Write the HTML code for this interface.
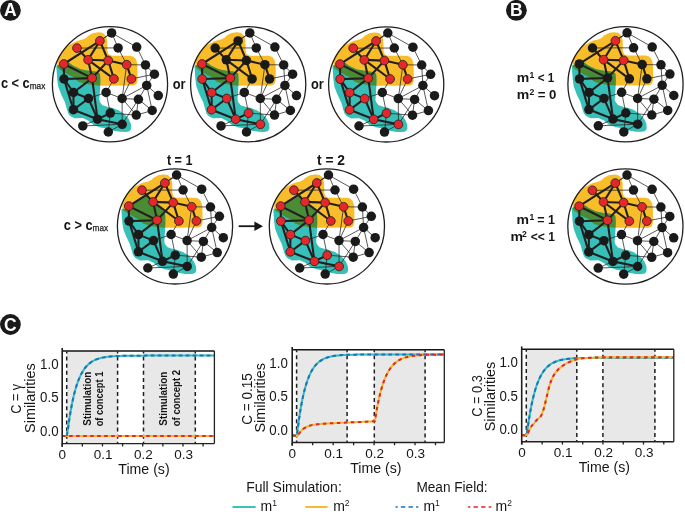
<!DOCTYPE html>
<html><head><meta charset="utf-8"><title>Figure</title>
<style>html,body{margin:0;padding:0;background:#fff;}svg{display:block;}text{font-family:'Liberation Sans', sans-serif;}</style></head>
<body><svg width="685" height="515" viewBox="0 0 685 515">
<rect width="685" height="515" fill="#fff"/>
<circle cx="10.4" cy="10.4" r="10.4" fill="#1a1a1a"/>
<text x="10.4" y="16.0" font-size="17.5" font-weight="bold" text-anchor="middle" fill="#fff">A</text>
<circle cx="516.4" cy="10.3" r="10.4" fill="#1a1a1a"/>
<text x="516.4" y="15.9" font-size="17.5" font-weight="bold" text-anchor="middle" fill="#fff">B</text>
<circle cx="10.4" cy="324.5" r="10.4" fill="#1a1a1a"/>
<text x="10.4" y="330.8" font-size="17.5" font-weight="bold" text-anchor="middle" fill="#fff">C</text>
<g transform="translate(110.0,83.8)">
<path d="M-52.56,-17.54 L-52.55,-17.39 L-52.52,-17.25 L-52.48,-17.11 L-52.43,-16.97 L-52.36,-16.83 L-52.28,-16.71 L-51.23,-15.20 L-51.13,-15.08 L-51.02,-14.96 L-50.91,-14.86 L-50.78,-14.77 L-48.59,-13.41 L-44.21,-10.62 L-44.16,-10.59 L-40.63,-8.53 L-40.48,-8.45 L-36.99,-6.90 L-31.43,-2.11 L-31.30,-2.00 L-31.15,-1.92 L-31.00,-1.85 L-30.84,-1.79 L-25.95,-0.38 L-25.81,-0.35 L-18.62,1.03 L-18.47,1.05 L-9.89,1.84 L-9.74,1.85 L23.23,1.65 L23.40,1.64 L23.57,1.61 L23.74,1.56 L23.89,1.50 L25.71,0.63 L25.84,0.56 L25.97,0.47 L26.08,0.38 L26.19,0.27 L26.28,0.15 L26.37,0.03 L26.44,-0.10 L26.50,-0.24 L27.46,-2.88 L27.50,-3.01 L27.53,-3.14 L27.54,-3.28 L27.55,-3.42 L27.45,-17.15 L27.44,-17.29 L27.06,-21.10 L27.03,-21.27 L26.99,-21.45 L26.01,-24.29 L25.95,-24.43 L25.88,-24.56 L25.80,-24.69 L25.71,-24.81 L24.07,-26.69 L23.96,-26.81 L23.84,-26.91 L23.71,-27.00 L23.57,-27.07 L23.42,-27.14 L20.81,-28.06 L20.64,-28.11 L20.47,-28.14 L20.29,-28.15 L2.53,-28.15 L2.53,-28.15 L2.52,-28.15 L0.63,-28.44 L-1.70,-29.92 L-2.65,-33.25 L-2.85,-43.51 L-2.86,-43.68 L-2.89,-43.84 L-2.94,-44.00 L-4.37,-48.04 L-4.43,-48.18 L-4.50,-48.31 L-4.58,-48.43 L-4.68,-48.55 L-4.78,-48.66 L-6.89,-50.61 L-7.01,-50.71 L-7.14,-50.79 L-7.27,-50.87 L-7.41,-50.93 L-7.56,-50.97 L-7.71,-51.00 L-11.17,-51.52 L-11.32,-51.54 L-11.47,-51.54 L-11.62,-51.52 L-16.15,-50.87 L-16.32,-50.84 L-16.48,-50.79 L-16.64,-50.72 L-21.00,-48.49 L-21.13,-48.42 L-21.26,-48.33 L-21.37,-48.23 L-23.71,-45.99 L-26.63,-44.43 L-32.95,-42.87 L-33.12,-42.82 L-33.28,-42.75 L-40.54,-39.07 L-40.69,-38.99 L-40.82,-38.89 L-46.10,-34.57 L-46.20,-34.48 L-46.29,-34.38 L-46.37,-34.28 L-50.19,-29.03 L-50.27,-28.92 L-50.33,-28.81 L-50.38,-28.69 L-52.63,-23.07 L-52.68,-22.91 L-52.72,-22.76 L-52.74,-22.60 L-52.74,-22.43Z" fill="#f8bd28"/>
<path d="M-52.52,-18.49 L-52.67,-18.45 L-52.81,-18.39 L-52.95,-18.31 L-53.07,-18.22 L-53.19,-18.12 L-53.30,-18.01 L-53.39,-17.89 L-53.47,-17.76 L-53.54,-17.63 L-53.60,-17.48 L-53.64,-17.34 L-53.67,-17.18 L-53.68,-17.03 L-53.67,-16.88 L-53.35,-12.68 L-52.75,-4.02 L-52.74,-3.90 L-51.77,2.72 L-51.73,2.89 L-51.68,3.04 L-48.85,10.57 L-48.79,10.70 L-45.03,18.42 L-45.03,18.42 L-45.03,18.43 L-43.14,25.17 L-43.13,25.23 L-41.80,29.40 L-41.75,29.53 L-41.69,29.66 L-41.62,29.78 L-41.54,29.89 L-39.94,31.91 L-39.83,32.04 L-39.70,32.15 L-39.57,32.25 L-39.43,32.33 L-35.44,34.37 L-35.29,34.43 L-35.14,34.48 L-34.99,34.52 L-34.83,34.54 L-34.67,34.54 L-27.07,34.25 L-21.49,36.90 L-16.89,40.82 L-16.78,40.91 L-16.67,40.99 L-16.54,41.05 L-16.41,41.10 L-9.53,43.59 L-9.39,43.63 L-9.24,43.66 L-2.99,44.64 L-2.98,44.64 L-2.98,44.64 L3.29,46.80 L3.41,46.84 L3.54,46.86 L10.35,48.03 L10.47,48.05 L10.58,48.05 L15.86,48.15 L16.03,48.14 L16.20,48.12 L19.03,47.55 L19.17,47.52 L19.31,47.47 L19.45,47.40 L19.57,47.33 L19.69,47.24 L19.80,47.14 L19.91,47.03 L20.00,46.91 L20.08,46.79 L21.03,45.08 L21.10,44.95 L21.15,44.81 L21.19,44.67 L21.22,44.52 L21.23,44.37 L21.22,44.22 L20.96,40.48 L20.94,40.31 L20.90,40.14 L20.84,39.98 L19.18,36.09 L19.10,35.93 L19.00,35.78 L16.55,32.48 L16.46,32.37 L16.36,32.27 L13.52,29.62 L13.41,29.53 L13.30,29.45 L8.70,26.48 L8.55,26.39 L8.40,26.33 L2.21,24.01 L2.10,23.97 L1.98,23.94 L-2.78,22.97 L-2.83,22.95 L-7.49,21.40 L-10.08,18.14 L-10.75,15.76 L-10.05,6.35 L-10.05,6.29 L-9.65,-3.63 L-9.65,-3.78 L-10.00,-9.44 L-10.02,-9.59 L-10.05,-9.74 L-10.09,-9.88 L-10.15,-10.01 L-10.22,-10.15 L-10.31,-10.27 L-10.40,-10.39 L-10.51,-10.49 L-10.62,-10.59 L-10.74,-10.67 L-10.88,-10.74 L-11.01,-10.80 L-14.74,-12.18 L-14.92,-12.23 L-15.10,-12.26 L-21.93,-13.04 L-21.96,-13.05 L-29.39,-14.44 L-36.82,-18.00 L-36.82,-18.00 L-36.82,-18.00 L-41.27,-21.21 L-41.40,-21.29 L-41.54,-21.36 L-41.68,-21.42 L-41.83,-21.46 L-41.98,-21.49 L-42.13,-21.50 L-42.28,-21.50 L-42.43,-21.48 L-42.58,-21.45 L-42.72,-21.40 L-46.08,-20.14 L-46.13,-20.13 L-50.08,-19.14 L-50.10,-19.14Z" fill="#37c0b7"/>
<path d="M-52.55,-17.39 L-52.52,-17.25 L-52.48,-17.11 L-52.43,-16.97 L-52.36,-16.83 L-52.28,-16.71 L-51.23,-15.20 L-51.13,-15.08 L-51.02,-14.96 L-50.91,-14.86 L-50.78,-14.77 L-48.59,-13.41 L-44.21,-10.62 L-44.16,-10.59 L-40.63,-8.53 L-40.48,-8.45 L-36.99,-6.90 L-31.43,-2.11 L-31.30,-2.00 L-31.15,-1.92 L-31.00,-1.85 L-30.84,-1.79 L-25.95,-0.38 L-25.81,-0.35 L-18.62,1.03 L-18.47,1.05 L-9.89,1.84 L-9.87,1.84 L-9.65,-3.63 L-9.65,-3.78 L-10.00,-9.44 L-10.02,-9.59 L-10.05,-9.74 L-10.09,-9.88 L-10.15,-10.01 L-10.22,-10.15 L-10.31,-10.27 L-10.40,-10.39 L-10.51,-10.49 L-10.62,-10.59 L-10.74,-10.67 L-10.88,-10.74 L-11.01,-10.80 L-14.74,-12.18 L-14.92,-12.23 L-15.10,-12.26 L-21.93,-13.04 L-21.96,-13.05 L-29.39,-14.44 L-36.82,-18.00 L-36.82,-18.00 L-36.82,-18.00 L-41.27,-21.21 L-41.40,-21.29 L-41.54,-21.36 L-41.68,-21.42 L-41.83,-21.46 L-41.98,-21.49 L-42.13,-21.50 L-42.28,-21.50 L-42.43,-21.48 L-42.58,-21.45 L-42.72,-21.40 L-46.08,-20.14 L-46.13,-20.13 L-50.08,-19.14 L-50.10,-19.14 L-52.52,-18.49 L-52.60,-18.47 L-52.56,-17.54Z" fill="#4a8b35"/>
<circle cx="0" cy="0.5" r="57.6" fill="none" stroke="#231f20" stroke-width="1.3"/>
<line x1="1.60" y1="-50.90" x2="8.10" y2="-35.90" stroke="#231f20" stroke-width="0.75"/>
<line x1="1.60" y1="-50.90" x2="26.70" y2="-36.70" stroke="#231f20" stroke-width="0.75"/>
<line x1="-33.00" y1="-35.70" x2="8.10" y2="-35.90" stroke="#231f20" stroke-width="0.75"/>
<line x1="8.10" y1="-35.90" x2="16.70" y2="-19.10" stroke="#231f20" stroke-width="0.75"/>
<line x1="26.70" y1="-36.70" x2="35.50" y2="-18.90" stroke="#231f20" stroke-width="0.75"/>
<line x1="16.70" y1="-19.10" x2="35.50" y2="-18.90" stroke="#231f20" stroke-width="0.75"/>
<line x1="35.50" y1="-18.90" x2="44.40" y2="-9.60" stroke="#231f20" stroke-width="0.75"/>
<line x1="35.50" y1="-18.90" x2="36.70" y2="1.60" stroke="#231f20" stroke-width="0.75"/>
<line x1="44.40" y1="-9.60" x2="36.70" y2="1.60" stroke="#231f20" stroke-width="0.75"/>
<line x1="21.40" y1="-4.90" x2="44.40" y2="-9.60" stroke="#231f20" stroke-width="0.75"/>
<line x1="36.70" y1="1.60" x2="48.30" y2="11.80" stroke="#231f20" stroke-width="0.75"/>
<line x1="36.70" y1="1.60" x2="12.10" y2="14.70" stroke="#231f20" stroke-width="0.75"/>
<line x1="36.70" y1="1.60" x2="28.40" y2="15.50" stroke="#231f20" stroke-width="0.75"/>
<line x1="36.70" y1="1.60" x2="42.20" y2="26.70" stroke="#231f20" stroke-width="0.75"/>
<line x1="3.90" y1="-4.90" x2="-3.90" y2="8.60" stroke="#231f20" stroke-width="0.75"/>
<line x1="16.70" y1="-19.10" x2="12.10" y2="14.70" stroke="#231f20" stroke-width="0.75"/>
<line x1="21.40" y1="-4.90" x2="12.10" y2="14.70" stroke="#231f20" stroke-width="0.75"/>
<line x1="-3.90" y1="8.60" x2="12.10" y2="14.70" stroke="#231f20" stroke-width="0.75"/>
<line x1="-3.90" y1="8.60" x2="0.30" y2="29.30" stroke="#231f20" stroke-width="0.75"/>
<line x1="-3.90" y1="8.60" x2="-21.50" y2="14.70" stroke="#231f20" stroke-width="0.75"/>
<line x1="12.10" y1="14.70" x2="28.40" y2="15.50" stroke="#231f20" stroke-width="0.75"/>
<line x1="12.10" y1="14.70" x2="26.30" y2="31.30" stroke="#231f20" stroke-width="0.75"/>
<line x1="12.10" y1="14.70" x2="12.20" y2="40.50" stroke="#231f20" stroke-width="0.75"/>
<line x1="28.40" y1="15.50" x2="42.20" y2="26.70" stroke="#231f20" stroke-width="0.75"/>
<line x1="28.40" y1="15.50" x2="26.30" y2="31.30" stroke="#231f20" stroke-width="0.75"/>
<line x1="28.40" y1="15.50" x2="12.20" y2="40.50" stroke="#231f20" stroke-width="0.75"/>
<line x1="26.30" y1="31.30" x2="42.20" y2="26.70" stroke="#231f20" stroke-width="0.75"/>
<line x1="0.30" y1="29.30" x2="26.30" y2="31.30" stroke="#231f20" stroke-width="0.75"/>
<line x1="0.30" y1="29.30" x2="-1.70" y2="48.20" stroke="#231f20" stroke-width="0.75"/>
<line x1="-1.70" y1="48.20" x2="12.20" y2="40.50" stroke="#231f20" stroke-width="0.75"/>
<line x1="-12.50" y1="35.40" x2="-27.20" y2="42.10" stroke="#231f20" stroke-width="0.75"/>
<line x1="-27.20" y1="42.10" x2="12.20" y2="40.50" stroke="#231f20" stroke-width="0.75"/>
<line x1="-10.10" y1="-42.90" x2="1.60" y2="-50.90" stroke="#231f20" stroke-width="1.1"/>
<line x1="-10.10" y1="-42.90" x2="-21.90" y2="-24.00" stroke="#231f20" stroke-width="2.1"/>
<line x1="-10.10" y1="-42.90" x2="-46.20" y2="-19.80" stroke="#231f20" stroke-width="2.1"/>
<line x1="-10.10" y1="-42.90" x2="-1.80" y2="-23.30" stroke="#231f20" stroke-width="2.1"/>
<line x1="-33.00" y1="-35.70" x2="-21.90" y2="-24.00" stroke="#231f20" stroke-width="2.1"/>
<line x1="-21.90" y1="-24.00" x2="-1.80" y2="-23.30" stroke="#231f20" stroke-width="2.1"/>
<line x1="-21.90" y1="-24.00" x2="-17.90" y2="-5.70" stroke="#231f20" stroke-width="2.1"/>
<line x1="-21.90" y1="-24.00" x2="3.90" y2="-4.90" stroke="#231f20" stroke-width="2.1"/>
<line x1="-1.80" y1="-23.30" x2="-17.90" y2="-5.70" stroke="#231f20" stroke-width="2.1"/>
<line x1="-1.80" y1="-23.30" x2="3.90" y2="-4.90" stroke="#231f20" stroke-width="2.1"/>
<line x1="-1.80" y1="-23.30" x2="16.70" y2="-19.10" stroke="#231f20" stroke-width="2.1"/>
<line x1="16.70" y1="-19.10" x2="21.40" y2="-4.90" stroke="#231f20" stroke-width="2.1"/>
<line x1="-46.20" y1="-19.80" x2="-17.90" y2="-5.70" stroke="#231f20" stroke-width="2.1"/>
<line x1="-46.20" y1="-19.80" x2="-46.00" y2="-4.80" stroke="#231f20" stroke-width="2.1"/>
<line x1="-46.00" y1="-4.80" x2="-17.90" y2="-5.70" stroke="#231f20" stroke-width="2.1"/>
<line x1="-46.00" y1="-4.80" x2="-36.50" y2="8.70" stroke="#231f20" stroke-width="2.1"/>
<line x1="-46.00" y1="-4.80" x2="-36.60" y2="25.90" stroke="#231f20" stroke-width="2.1"/>
<line x1="-36.50" y1="8.70" x2="-17.90" y2="-5.70" stroke="#231f20" stroke-width="2.1"/>
<line x1="-36.50" y1="8.70" x2="-21.50" y2="14.70" stroke="#231f20" stroke-width="2.1"/>
<line x1="-36.50" y1="8.70" x2="-36.60" y2="25.90" stroke="#231f20" stroke-width="2.1"/>
<line x1="-21.50" y1="14.70" x2="-36.60" y2="25.90" stroke="#231f20" stroke-width="2.1"/>
<line x1="-21.50" y1="14.70" x2="-12.50" y2="35.40" stroke="#231f20" stroke-width="2.1"/>
<line x1="-17.90" y1="-5.70" x2="-12.50" y2="35.40" stroke="#231f20" stroke-width="2.1"/>
<line x1="-36.60" y1="25.90" x2="-12.50" y2="35.40" stroke="#231f20" stroke-width="2.1"/>
<line x1="-12.50" y1="35.40" x2="0.30" y2="29.30" stroke="#231f20" stroke-width="2.1"/>
<line x1="-12.50" y1="35.40" x2="12.20" y2="40.50" stroke="#231f20" stroke-width="2.1"/>
<circle cx="-10.10" cy="-42.90" r="4.4" fill="#e3272b" stroke="#231f20" stroke-width="0.8"/>
<circle cx="-33.00" cy="-35.70" r="4.4" fill="#e3272b" stroke="#231f20" stroke-width="0.8"/>
<circle cx="-21.90" cy="-24.00" r="4.4" fill="#e3272b" stroke="#231f20" stroke-width="0.8"/>
<circle cx="-46.20" cy="-19.80" r="4.4" fill="#e3272b" stroke="#231f20" stroke-width="0.8"/>
<circle cx="-1.80" cy="-23.30" r="4.4" fill="#e3272b" stroke="#231f20" stroke-width="0.8"/>
<circle cx="16.70" cy="-19.10" r="4.4" fill="#e3272b" stroke="#231f20" stroke-width="0.8"/>
<circle cx="-17.90" cy="-5.70" r="4.4" fill="#e3272b" stroke="#231f20" stroke-width="0.8"/>
<circle cx="3.90" cy="-4.90" r="4.4" fill="#e3272b" stroke="#231f20" stroke-width="0.8"/>
<circle cx="21.40" cy="-4.90" r="4.4" fill="#e3272b" stroke="#231f20" stroke-width="0.8"/>
<circle cx="1.60" cy="-50.90" r="4.75" fill="#1b1a1a"/>
<circle cx="8.10" cy="-35.90" r="4.75" fill="#1b1a1a"/>
<circle cx="26.70" cy="-36.70" r="4.75" fill="#1b1a1a"/>
<circle cx="35.50" cy="-18.90" r="4.75" fill="#1b1a1a"/>
<circle cx="44.40" cy="-9.60" r="4.75" fill="#1b1a1a"/>
<circle cx="36.70" cy="1.60" r="4.75" fill="#1b1a1a"/>
<circle cx="48.30" cy="11.80" r="4.75" fill="#1b1a1a"/>
<circle cx="-46.00" cy="-4.80" r="4.75" fill="#1b1a1a"/>
<circle cx="-36.50" cy="8.70" r="4.75" fill="#1b1a1a"/>
<circle cx="-21.50" cy="14.70" r="4.75" fill="#1b1a1a"/>
<circle cx="-36.60" cy="25.90" r="4.75" fill="#1b1a1a"/>
<circle cx="-12.50" cy="35.40" r="4.75" fill="#1b1a1a"/>
<circle cx="0.30" cy="29.30" r="4.75" fill="#1b1a1a"/>
<circle cx="12.20" cy="40.50" r="4.75" fill="#1b1a1a"/>
<circle cx="-27.20" cy="42.10" r="4.75" fill="#1b1a1a"/>
<circle cx="-1.70" cy="48.20" r="4.75" fill="#1b1a1a"/>
<circle cx="-3.90" cy="8.60" r="4.75" fill="#1b1a1a"/>
<circle cx="12.10" cy="14.70" r="4.75" fill="#1b1a1a"/>
<circle cx="28.40" cy="15.50" r="4.75" fill="#1b1a1a"/>
<circle cx="26.30" cy="31.30" r="4.75" fill="#1b1a1a"/>
<circle cx="42.20" cy="26.70" r="4.75" fill="#1b1a1a"/>
</g>
<g transform="translate(248.2,83.8)">
<path d="M-52.56,-17.54 L-52.55,-17.39 L-52.52,-17.25 L-52.48,-17.11 L-52.43,-16.97 L-52.36,-16.83 L-52.28,-16.71 L-51.23,-15.20 L-51.13,-15.08 L-51.02,-14.96 L-50.91,-14.86 L-50.78,-14.77 L-48.59,-13.41 L-44.21,-10.62 L-44.16,-10.59 L-40.63,-8.53 L-40.48,-8.45 L-36.99,-6.90 L-31.43,-2.11 L-31.30,-2.00 L-31.15,-1.92 L-31.00,-1.85 L-30.84,-1.79 L-25.95,-0.38 L-25.81,-0.35 L-18.62,1.03 L-18.47,1.05 L-9.89,1.84 L-9.74,1.85 L23.23,1.65 L23.40,1.64 L23.57,1.61 L23.74,1.56 L23.89,1.50 L25.71,0.63 L25.84,0.56 L25.97,0.47 L26.08,0.38 L26.19,0.27 L26.28,0.15 L26.37,0.03 L26.44,-0.10 L26.50,-0.24 L27.46,-2.88 L27.50,-3.01 L27.53,-3.14 L27.54,-3.28 L27.55,-3.42 L27.45,-17.15 L27.44,-17.29 L27.06,-21.10 L27.03,-21.27 L26.99,-21.45 L26.01,-24.29 L25.95,-24.43 L25.88,-24.56 L25.80,-24.69 L25.71,-24.81 L24.07,-26.69 L23.96,-26.81 L23.84,-26.91 L23.71,-27.00 L23.57,-27.07 L23.42,-27.14 L20.81,-28.06 L20.64,-28.11 L20.47,-28.14 L20.29,-28.15 L2.53,-28.15 L2.53,-28.15 L2.52,-28.15 L0.63,-28.44 L-1.70,-29.92 L-2.65,-33.25 L-2.85,-43.51 L-2.86,-43.68 L-2.89,-43.84 L-2.94,-44.00 L-4.37,-48.04 L-4.43,-48.18 L-4.50,-48.31 L-4.58,-48.43 L-4.68,-48.55 L-4.78,-48.66 L-6.89,-50.61 L-7.01,-50.71 L-7.14,-50.79 L-7.27,-50.87 L-7.41,-50.93 L-7.56,-50.97 L-7.71,-51.00 L-11.17,-51.52 L-11.32,-51.54 L-11.47,-51.54 L-11.62,-51.52 L-16.15,-50.87 L-16.32,-50.84 L-16.48,-50.79 L-16.64,-50.72 L-21.00,-48.49 L-21.13,-48.42 L-21.26,-48.33 L-21.37,-48.23 L-23.71,-45.99 L-26.63,-44.43 L-32.95,-42.87 L-33.12,-42.82 L-33.28,-42.75 L-40.54,-39.07 L-40.69,-38.99 L-40.82,-38.89 L-46.10,-34.57 L-46.20,-34.48 L-46.29,-34.38 L-46.37,-34.28 L-50.19,-29.03 L-50.27,-28.92 L-50.33,-28.81 L-50.38,-28.69 L-52.63,-23.07 L-52.68,-22.91 L-52.72,-22.76 L-52.74,-22.60 L-52.74,-22.43Z" fill="#f8bd28"/>
<path d="M-52.52,-18.49 L-52.67,-18.45 L-52.81,-18.39 L-52.95,-18.31 L-53.07,-18.22 L-53.19,-18.12 L-53.30,-18.01 L-53.39,-17.89 L-53.47,-17.76 L-53.54,-17.63 L-53.60,-17.48 L-53.64,-17.34 L-53.67,-17.18 L-53.68,-17.03 L-53.67,-16.88 L-53.35,-12.68 L-52.75,-4.02 L-52.74,-3.90 L-51.77,2.72 L-51.73,2.89 L-51.68,3.04 L-48.85,10.57 L-48.79,10.70 L-45.03,18.42 L-45.03,18.42 L-45.03,18.43 L-43.14,25.17 L-43.13,25.23 L-41.80,29.40 L-41.75,29.53 L-41.69,29.66 L-41.62,29.78 L-41.54,29.89 L-39.94,31.91 L-39.83,32.04 L-39.70,32.15 L-39.57,32.25 L-39.43,32.33 L-35.44,34.37 L-35.29,34.43 L-35.14,34.48 L-34.99,34.52 L-34.83,34.54 L-34.67,34.54 L-27.07,34.25 L-21.49,36.90 L-16.89,40.82 L-16.78,40.91 L-16.67,40.99 L-16.54,41.05 L-16.41,41.10 L-9.53,43.59 L-9.39,43.63 L-9.24,43.66 L-2.99,44.64 L-2.98,44.64 L-2.98,44.64 L3.29,46.80 L3.41,46.84 L3.54,46.86 L10.35,48.03 L10.47,48.05 L10.58,48.05 L15.86,48.15 L16.03,48.14 L16.20,48.12 L19.03,47.55 L19.17,47.52 L19.31,47.47 L19.45,47.40 L19.57,47.33 L19.69,47.24 L19.80,47.14 L19.91,47.03 L20.00,46.91 L20.08,46.79 L21.03,45.08 L21.10,44.95 L21.15,44.81 L21.19,44.67 L21.22,44.52 L21.23,44.37 L21.22,44.22 L20.96,40.48 L20.94,40.31 L20.90,40.14 L20.84,39.98 L19.18,36.09 L19.10,35.93 L19.00,35.78 L16.55,32.48 L16.46,32.37 L16.36,32.27 L13.52,29.62 L13.41,29.53 L13.30,29.45 L8.70,26.48 L8.55,26.39 L8.40,26.33 L2.21,24.01 L2.10,23.97 L1.98,23.94 L-2.78,22.97 L-2.83,22.95 L-7.49,21.40 L-10.08,18.14 L-10.75,15.76 L-10.05,6.35 L-10.05,6.29 L-9.65,-3.63 L-9.65,-3.78 L-10.00,-9.44 L-10.02,-9.59 L-10.05,-9.74 L-10.09,-9.88 L-10.15,-10.01 L-10.22,-10.15 L-10.31,-10.27 L-10.40,-10.39 L-10.51,-10.49 L-10.62,-10.59 L-10.74,-10.67 L-10.88,-10.74 L-11.01,-10.80 L-14.74,-12.18 L-14.92,-12.23 L-15.10,-12.26 L-21.93,-13.04 L-21.96,-13.05 L-29.39,-14.44 L-36.82,-18.00 L-36.82,-18.00 L-36.82,-18.00 L-41.27,-21.21 L-41.40,-21.29 L-41.54,-21.36 L-41.68,-21.42 L-41.83,-21.46 L-41.98,-21.49 L-42.13,-21.50 L-42.28,-21.50 L-42.43,-21.48 L-42.58,-21.45 L-42.72,-21.40 L-46.08,-20.14 L-46.13,-20.13 L-50.08,-19.14 L-50.10,-19.14Z" fill="#37c0b7"/>
<path d="M-52.55,-17.39 L-52.52,-17.25 L-52.48,-17.11 L-52.43,-16.97 L-52.36,-16.83 L-52.28,-16.71 L-51.23,-15.20 L-51.13,-15.08 L-51.02,-14.96 L-50.91,-14.86 L-50.78,-14.77 L-48.59,-13.41 L-44.21,-10.62 L-44.16,-10.59 L-40.63,-8.53 L-40.48,-8.45 L-36.99,-6.90 L-31.43,-2.11 L-31.30,-2.00 L-31.15,-1.92 L-31.00,-1.85 L-30.84,-1.79 L-25.95,-0.38 L-25.81,-0.35 L-18.62,1.03 L-18.47,1.05 L-9.89,1.84 L-9.87,1.84 L-9.65,-3.63 L-9.65,-3.78 L-10.00,-9.44 L-10.02,-9.59 L-10.05,-9.74 L-10.09,-9.88 L-10.15,-10.01 L-10.22,-10.15 L-10.31,-10.27 L-10.40,-10.39 L-10.51,-10.49 L-10.62,-10.59 L-10.74,-10.67 L-10.88,-10.74 L-11.01,-10.80 L-14.74,-12.18 L-14.92,-12.23 L-15.10,-12.26 L-21.93,-13.04 L-21.96,-13.05 L-29.39,-14.44 L-36.82,-18.00 L-36.82,-18.00 L-36.82,-18.00 L-41.27,-21.21 L-41.40,-21.29 L-41.54,-21.36 L-41.68,-21.42 L-41.83,-21.46 L-41.98,-21.49 L-42.13,-21.50 L-42.28,-21.50 L-42.43,-21.48 L-42.58,-21.45 L-42.72,-21.40 L-46.08,-20.14 L-46.13,-20.13 L-50.08,-19.14 L-50.10,-19.14 L-52.52,-18.49 L-52.60,-18.47 L-52.56,-17.54Z" fill="#4a8b35"/>
<circle cx="0" cy="0.5" r="57.6" fill="none" stroke="#231f20" stroke-width="1.3"/>
<line x1="1.60" y1="-50.90" x2="8.10" y2="-35.90" stroke="#231f20" stroke-width="0.75"/>
<line x1="1.60" y1="-50.90" x2="26.70" y2="-36.70" stroke="#231f20" stroke-width="0.75"/>
<line x1="-33.00" y1="-35.70" x2="8.10" y2="-35.90" stroke="#231f20" stroke-width="0.75"/>
<line x1="8.10" y1="-35.90" x2="16.70" y2="-19.10" stroke="#231f20" stroke-width="0.75"/>
<line x1="26.70" y1="-36.70" x2="35.50" y2="-18.90" stroke="#231f20" stroke-width="0.75"/>
<line x1="16.70" y1="-19.10" x2="35.50" y2="-18.90" stroke="#231f20" stroke-width="0.75"/>
<line x1="35.50" y1="-18.90" x2="44.40" y2="-9.60" stroke="#231f20" stroke-width="0.75"/>
<line x1="35.50" y1="-18.90" x2="36.70" y2="1.60" stroke="#231f20" stroke-width="0.75"/>
<line x1="44.40" y1="-9.60" x2="36.70" y2="1.60" stroke="#231f20" stroke-width="0.75"/>
<line x1="21.40" y1="-4.90" x2="44.40" y2="-9.60" stroke="#231f20" stroke-width="0.75"/>
<line x1="36.70" y1="1.60" x2="48.30" y2="11.80" stroke="#231f20" stroke-width="0.75"/>
<line x1="36.70" y1="1.60" x2="12.10" y2="14.70" stroke="#231f20" stroke-width="0.75"/>
<line x1="36.70" y1="1.60" x2="28.40" y2="15.50" stroke="#231f20" stroke-width="0.75"/>
<line x1="36.70" y1="1.60" x2="42.20" y2="26.70" stroke="#231f20" stroke-width="0.75"/>
<line x1="3.90" y1="-4.90" x2="-3.90" y2="8.60" stroke="#231f20" stroke-width="0.75"/>
<line x1="16.70" y1="-19.10" x2="12.10" y2="14.70" stroke="#231f20" stroke-width="0.75"/>
<line x1="21.40" y1="-4.90" x2="12.10" y2="14.70" stroke="#231f20" stroke-width="0.75"/>
<line x1="-3.90" y1="8.60" x2="12.10" y2="14.70" stroke="#231f20" stroke-width="0.75"/>
<line x1="-3.90" y1="8.60" x2="0.30" y2="29.30" stroke="#231f20" stroke-width="0.75"/>
<line x1="-3.90" y1="8.60" x2="-21.50" y2="14.70" stroke="#231f20" stroke-width="0.75"/>
<line x1="12.10" y1="14.70" x2="28.40" y2="15.50" stroke="#231f20" stroke-width="0.75"/>
<line x1="12.10" y1="14.70" x2="26.30" y2="31.30" stroke="#231f20" stroke-width="0.75"/>
<line x1="12.10" y1="14.70" x2="12.20" y2="40.50" stroke="#231f20" stroke-width="0.75"/>
<line x1="28.40" y1="15.50" x2="42.20" y2="26.70" stroke="#231f20" stroke-width="0.75"/>
<line x1="28.40" y1="15.50" x2="26.30" y2="31.30" stroke="#231f20" stroke-width="0.75"/>
<line x1="28.40" y1="15.50" x2="12.20" y2="40.50" stroke="#231f20" stroke-width="0.75"/>
<line x1="26.30" y1="31.30" x2="42.20" y2="26.70" stroke="#231f20" stroke-width="0.75"/>
<line x1="0.30" y1="29.30" x2="26.30" y2="31.30" stroke="#231f20" stroke-width="0.75"/>
<line x1="0.30" y1="29.30" x2="-1.70" y2="48.20" stroke="#231f20" stroke-width="0.75"/>
<line x1="-1.70" y1="48.20" x2="12.20" y2="40.50" stroke="#231f20" stroke-width="0.75"/>
<line x1="-12.50" y1="35.40" x2="-27.20" y2="42.10" stroke="#231f20" stroke-width="0.75"/>
<line x1="-27.20" y1="42.10" x2="12.20" y2="40.50" stroke="#231f20" stroke-width="0.75"/>
<line x1="-10.10" y1="-42.90" x2="1.60" y2="-50.90" stroke="#231f20" stroke-width="1.1"/>
<line x1="-10.10" y1="-42.90" x2="-21.90" y2="-24.00" stroke="#231f20" stroke-width="2.1"/>
<line x1="-10.10" y1="-42.90" x2="-46.20" y2="-19.80" stroke="#231f20" stroke-width="2.1"/>
<line x1="-10.10" y1="-42.90" x2="-1.80" y2="-23.30" stroke="#231f20" stroke-width="2.1"/>
<line x1="-33.00" y1="-35.70" x2="-21.90" y2="-24.00" stroke="#231f20" stroke-width="2.1"/>
<line x1="-21.90" y1="-24.00" x2="-1.80" y2="-23.30" stroke="#231f20" stroke-width="2.1"/>
<line x1="-21.90" y1="-24.00" x2="-17.90" y2="-5.70" stroke="#231f20" stroke-width="2.1"/>
<line x1="-21.90" y1="-24.00" x2="3.90" y2="-4.90" stroke="#231f20" stroke-width="2.1"/>
<line x1="-1.80" y1="-23.30" x2="-17.90" y2="-5.70" stroke="#231f20" stroke-width="2.1"/>
<line x1="-1.80" y1="-23.30" x2="3.90" y2="-4.90" stroke="#231f20" stroke-width="2.1"/>
<line x1="-1.80" y1="-23.30" x2="16.70" y2="-19.10" stroke="#231f20" stroke-width="2.1"/>
<line x1="16.70" y1="-19.10" x2="21.40" y2="-4.90" stroke="#231f20" stroke-width="2.1"/>
<line x1="-46.20" y1="-19.80" x2="-17.90" y2="-5.70" stroke="#231f20" stroke-width="2.1"/>
<line x1="-46.20" y1="-19.80" x2="-46.00" y2="-4.80" stroke="#231f20" stroke-width="2.1"/>
<line x1="-46.00" y1="-4.80" x2="-17.90" y2="-5.70" stroke="#231f20" stroke-width="2.1"/>
<line x1="-46.00" y1="-4.80" x2="-36.50" y2="8.70" stroke="#231f20" stroke-width="2.1"/>
<line x1="-46.00" y1="-4.80" x2="-36.60" y2="25.90" stroke="#231f20" stroke-width="2.1"/>
<line x1="-36.50" y1="8.70" x2="-17.90" y2="-5.70" stroke="#231f20" stroke-width="2.1"/>
<line x1="-36.50" y1="8.70" x2="-21.50" y2="14.70" stroke="#231f20" stroke-width="2.1"/>
<line x1="-36.50" y1="8.70" x2="-36.60" y2="25.90" stroke="#231f20" stroke-width="2.1"/>
<line x1="-21.50" y1="14.70" x2="-36.60" y2="25.90" stroke="#231f20" stroke-width="2.1"/>
<line x1="-21.50" y1="14.70" x2="-12.50" y2="35.40" stroke="#231f20" stroke-width="2.1"/>
<line x1="-17.90" y1="-5.70" x2="-12.50" y2="35.40" stroke="#231f20" stroke-width="2.1"/>
<line x1="-36.60" y1="25.90" x2="-12.50" y2="35.40" stroke="#231f20" stroke-width="2.1"/>
<line x1="-12.50" y1="35.40" x2="0.30" y2="29.30" stroke="#231f20" stroke-width="2.1"/>
<line x1="-12.50" y1="35.40" x2="12.20" y2="40.50" stroke="#231f20" stroke-width="2.1"/>
<circle cx="-10.10" cy="-42.90" r="4.75" fill="#1b1a1a"/>
<circle cx="-33.00" cy="-35.70" r="4.75" fill="#1b1a1a"/>
<circle cx="-21.90" cy="-24.00" r="4.75" fill="#1b1a1a"/>
<circle cx="-46.20" cy="-19.80" r="4.4" fill="#e3272b" stroke="#231f20" stroke-width="0.8"/>
<circle cx="-1.80" cy="-23.30" r="4.75" fill="#1b1a1a"/>
<circle cx="16.70" cy="-19.10" r="4.75" fill="#1b1a1a"/>
<circle cx="-17.90" cy="-5.70" r="4.4" fill="#e3272b" stroke="#231f20" stroke-width="0.8"/>
<circle cx="3.90" cy="-4.90" r="4.75" fill="#1b1a1a"/>
<circle cx="21.40" cy="-4.90" r="4.75" fill="#1b1a1a"/>
<circle cx="1.60" cy="-50.90" r="4.75" fill="#1b1a1a"/>
<circle cx="8.10" cy="-35.90" r="4.75" fill="#1b1a1a"/>
<circle cx="26.70" cy="-36.70" r="4.75" fill="#1b1a1a"/>
<circle cx="35.50" cy="-18.90" r="4.75" fill="#1b1a1a"/>
<circle cx="44.40" cy="-9.60" r="4.75" fill="#1b1a1a"/>
<circle cx="36.70" cy="1.60" r="4.75" fill="#1b1a1a"/>
<circle cx="48.30" cy="11.80" r="4.75" fill="#1b1a1a"/>
<circle cx="-46.00" cy="-4.80" r="4.4" fill="#e3272b" stroke="#231f20" stroke-width="0.8"/>
<circle cx="-36.50" cy="8.70" r="4.4" fill="#e3272b" stroke="#231f20" stroke-width="0.8"/>
<circle cx="-21.50" cy="14.70" r="4.4" fill="#e3272b" stroke="#231f20" stroke-width="0.8"/>
<circle cx="-36.60" cy="25.90" r="4.4" fill="#e3272b" stroke="#231f20" stroke-width="0.8"/>
<circle cx="-12.50" cy="35.40" r="4.4" fill="#e3272b" stroke="#231f20" stroke-width="0.8"/>
<circle cx="0.30" cy="29.30" r="4.4" fill="#e3272b" stroke="#231f20" stroke-width="0.8"/>
<circle cx="12.20" cy="40.50" r="4.4" fill="#e3272b" stroke="#231f20" stroke-width="0.8"/>
<circle cx="-27.20" cy="42.10" r="4.75" fill="#1b1a1a"/>
<circle cx="-1.70" cy="48.20" r="4.75" fill="#1b1a1a"/>
<circle cx="-3.90" cy="8.60" r="4.75" fill="#1b1a1a"/>
<circle cx="12.10" cy="14.70" r="4.75" fill="#1b1a1a"/>
<circle cx="28.40" cy="15.50" r="4.75" fill="#1b1a1a"/>
<circle cx="26.30" cy="31.30" r="4.75" fill="#1b1a1a"/>
<circle cx="42.20" cy="26.70" r="4.75" fill="#1b1a1a"/>
</g>
<g transform="translate(386.2,83.9)">
<path d="M-52.56,-17.54 L-52.55,-17.39 L-52.52,-17.25 L-52.48,-17.11 L-52.43,-16.97 L-52.36,-16.83 L-52.28,-16.71 L-51.23,-15.20 L-51.13,-15.08 L-51.02,-14.96 L-50.91,-14.86 L-50.78,-14.77 L-48.59,-13.41 L-44.21,-10.62 L-44.16,-10.59 L-40.63,-8.53 L-40.48,-8.45 L-36.99,-6.90 L-31.43,-2.11 L-31.30,-2.00 L-31.15,-1.92 L-31.00,-1.85 L-30.84,-1.79 L-25.95,-0.38 L-25.81,-0.35 L-18.62,1.03 L-18.47,1.05 L-9.89,1.84 L-9.74,1.85 L23.23,1.65 L23.40,1.64 L23.57,1.61 L23.74,1.56 L23.89,1.50 L25.71,0.63 L25.84,0.56 L25.97,0.47 L26.08,0.38 L26.19,0.27 L26.28,0.15 L26.37,0.03 L26.44,-0.10 L26.50,-0.24 L27.46,-2.88 L27.50,-3.01 L27.53,-3.14 L27.54,-3.28 L27.55,-3.42 L27.45,-17.15 L27.44,-17.29 L27.06,-21.10 L27.03,-21.27 L26.99,-21.45 L26.01,-24.29 L25.95,-24.43 L25.88,-24.56 L25.80,-24.69 L25.71,-24.81 L24.07,-26.69 L23.96,-26.81 L23.84,-26.91 L23.71,-27.00 L23.57,-27.07 L23.42,-27.14 L20.81,-28.06 L20.64,-28.11 L20.47,-28.14 L20.29,-28.15 L2.53,-28.15 L2.53,-28.15 L2.52,-28.15 L0.63,-28.44 L-1.70,-29.92 L-2.65,-33.25 L-2.85,-43.51 L-2.86,-43.68 L-2.89,-43.84 L-2.94,-44.00 L-4.37,-48.04 L-4.43,-48.18 L-4.50,-48.31 L-4.58,-48.43 L-4.68,-48.55 L-4.78,-48.66 L-6.89,-50.61 L-7.01,-50.71 L-7.14,-50.79 L-7.27,-50.87 L-7.41,-50.93 L-7.56,-50.97 L-7.71,-51.00 L-11.17,-51.52 L-11.32,-51.54 L-11.47,-51.54 L-11.62,-51.52 L-16.15,-50.87 L-16.32,-50.84 L-16.48,-50.79 L-16.64,-50.72 L-21.00,-48.49 L-21.13,-48.42 L-21.26,-48.33 L-21.37,-48.23 L-23.71,-45.99 L-26.63,-44.43 L-32.95,-42.87 L-33.12,-42.82 L-33.28,-42.75 L-40.54,-39.07 L-40.69,-38.99 L-40.82,-38.89 L-46.10,-34.57 L-46.20,-34.48 L-46.29,-34.38 L-46.37,-34.28 L-50.19,-29.03 L-50.27,-28.92 L-50.33,-28.81 L-50.38,-28.69 L-52.63,-23.07 L-52.68,-22.91 L-52.72,-22.76 L-52.74,-22.60 L-52.74,-22.43Z" fill="#f8bd28"/>
<path d="M-52.52,-18.49 L-52.67,-18.45 L-52.81,-18.39 L-52.95,-18.31 L-53.07,-18.22 L-53.19,-18.12 L-53.30,-18.01 L-53.39,-17.89 L-53.47,-17.76 L-53.54,-17.63 L-53.60,-17.48 L-53.64,-17.34 L-53.67,-17.18 L-53.68,-17.03 L-53.67,-16.88 L-53.35,-12.68 L-52.75,-4.02 L-52.74,-3.90 L-51.77,2.72 L-51.73,2.89 L-51.68,3.04 L-48.85,10.57 L-48.79,10.70 L-45.03,18.42 L-45.03,18.42 L-45.03,18.43 L-43.14,25.17 L-43.13,25.23 L-41.80,29.40 L-41.75,29.53 L-41.69,29.66 L-41.62,29.78 L-41.54,29.89 L-39.94,31.91 L-39.83,32.04 L-39.70,32.15 L-39.57,32.25 L-39.43,32.33 L-35.44,34.37 L-35.29,34.43 L-35.14,34.48 L-34.99,34.52 L-34.83,34.54 L-34.67,34.54 L-27.07,34.25 L-21.49,36.90 L-16.89,40.82 L-16.78,40.91 L-16.67,40.99 L-16.54,41.05 L-16.41,41.10 L-9.53,43.59 L-9.39,43.63 L-9.24,43.66 L-2.99,44.64 L-2.98,44.64 L-2.98,44.64 L3.29,46.80 L3.41,46.84 L3.54,46.86 L10.35,48.03 L10.47,48.05 L10.58,48.05 L15.86,48.15 L16.03,48.14 L16.20,48.12 L19.03,47.55 L19.17,47.52 L19.31,47.47 L19.45,47.40 L19.57,47.33 L19.69,47.24 L19.80,47.14 L19.91,47.03 L20.00,46.91 L20.08,46.79 L21.03,45.08 L21.10,44.95 L21.15,44.81 L21.19,44.67 L21.22,44.52 L21.23,44.37 L21.22,44.22 L20.96,40.48 L20.94,40.31 L20.90,40.14 L20.84,39.98 L19.18,36.09 L19.10,35.93 L19.00,35.78 L16.55,32.48 L16.46,32.37 L16.36,32.27 L13.52,29.62 L13.41,29.53 L13.30,29.45 L8.70,26.48 L8.55,26.39 L8.40,26.33 L2.21,24.01 L2.10,23.97 L1.98,23.94 L-2.78,22.97 L-2.83,22.95 L-7.49,21.40 L-10.08,18.14 L-10.75,15.76 L-10.05,6.35 L-10.05,6.29 L-9.65,-3.63 L-9.65,-3.78 L-10.00,-9.44 L-10.02,-9.59 L-10.05,-9.74 L-10.09,-9.88 L-10.15,-10.01 L-10.22,-10.15 L-10.31,-10.27 L-10.40,-10.39 L-10.51,-10.49 L-10.62,-10.59 L-10.74,-10.67 L-10.88,-10.74 L-11.01,-10.80 L-14.74,-12.18 L-14.92,-12.23 L-15.10,-12.26 L-21.93,-13.04 L-21.96,-13.05 L-29.39,-14.44 L-36.82,-18.00 L-36.82,-18.00 L-36.82,-18.00 L-41.27,-21.21 L-41.40,-21.29 L-41.54,-21.36 L-41.68,-21.42 L-41.83,-21.46 L-41.98,-21.49 L-42.13,-21.50 L-42.28,-21.50 L-42.43,-21.48 L-42.58,-21.45 L-42.72,-21.40 L-46.08,-20.14 L-46.13,-20.13 L-50.08,-19.14 L-50.10,-19.14Z" fill="#37c0b7"/>
<path d="M-52.55,-17.39 L-52.52,-17.25 L-52.48,-17.11 L-52.43,-16.97 L-52.36,-16.83 L-52.28,-16.71 L-51.23,-15.20 L-51.13,-15.08 L-51.02,-14.96 L-50.91,-14.86 L-50.78,-14.77 L-48.59,-13.41 L-44.21,-10.62 L-44.16,-10.59 L-40.63,-8.53 L-40.48,-8.45 L-36.99,-6.90 L-31.43,-2.11 L-31.30,-2.00 L-31.15,-1.92 L-31.00,-1.85 L-30.84,-1.79 L-25.95,-0.38 L-25.81,-0.35 L-18.62,1.03 L-18.47,1.05 L-9.89,1.84 L-9.87,1.84 L-9.65,-3.63 L-9.65,-3.78 L-10.00,-9.44 L-10.02,-9.59 L-10.05,-9.74 L-10.09,-9.88 L-10.15,-10.01 L-10.22,-10.15 L-10.31,-10.27 L-10.40,-10.39 L-10.51,-10.49 L-10.62,-10.59 L-10.74,-10.67 L-10.88,-10.74 L-11.01,-10.80 L-14.74,-12.18 L-14.92,-12.23 L-15.10,-12.26 L-21.93,-13.04 L-21.96,-13.05 L-29.39,-14.44 L-36.82,-18.00 L-36.82,-18.00 L-36.82,-18.00 L-41.27,-21.21 L-41.40,-21.29 L-41.54,-21.36 L-41.68,-21.42 L-41.83,-21.46 L-41.98,-21.49 L-42.13,-21.50 L-42.28,-21.50 L-42.43,-21.48 L-42.58,-21.45 L-42.72,-21.40 L-46.08,-20.14 L-46.13,-20.13 L-50.08,-19.14 L-50.10,-19.14 L-52.52,-18.49 L-52.60,-18.47 L-52.56,-17.54Z" fill="#4a8b35"/>
<circle cx="0" cy="0.5" r="57.6" fill="none" stroke="#231f20" stroke-width="1.3"/>
<line x1="1.60" y1="-50.90" x2="8.10" y2="-35.90" stroke="#231f20" stroke-width="0.75"/>
<line x1="1.60" y1="-50.90" x2="26.70" y2="-36.70" stroke="#231f20" stroke-width="0.75"/>
<line x1="-33.00" y1="-35.70" x2="8.10" y2="-35.90" stroke="#231f20" stroke-width="0.75"/>
<line x1="8.10" y1="-35.90" x2="16.70" y2="-19.10" stroke="#231f20" stroke-width="0.75"/>
<line x1="26.70" y1="-36.70" x2="35.50" y2="-18.90" stroke="#231f20" stroke-width="0.75"/>
<line x1="16.70" y1="-19.10" x2="35.50" y2="-18.90" stroke="#231f20" stroke-width="0.75"/>
<line x1="35.50" y1="-18.90" x2="44.40" y2="-9.60" stroke="#231f20" stroke-width="0.75"/>
<line x1="35.50" y1="-18.90" x2="36.70" y2="1.60" stroke="#231f20" stroke-width="0.75"/>
<line x1="44.40" y1="-9.60" x2="36.70" y2="1.60" stroke="#231f20" stroke-width="0.75"/>
<line x1="21.40" y1="-4.90" x2="44.40" y2="-9.60" stroke="#231f20" stroke-width="0.75"/>
<line x1="36.70" y1="1.60" x2="48.30" y2="11.80" stroke="#231f20" stroke-width="0.75"/>
<line x1="36.70" y1="1.60" x2="12.10" y2="14.70" stroke="#231f20" stroke-width="0.75"/>
<line x1="36.70" y1="1.60" x2="28.40" y2="15.50" stroke="#231f20" stroke-width="0.75"/>
<line x1="36.70" y1="1.60" x2="42.20" y2="26.70" stroke="#231f20" stroke-width="0.75"/>
<line x1="3.90" y1="-4.90" x2="-3.90" y2="8.60" stroke="#231f20" stroke-width="0.75"/>
<line x1="16.70" y1="-19.10" x2="12.10" y2="14.70" stroke="#231f20" stroke-width="0.75"/>
<line x1="21.40" y1="-4.90" x2="12.10" y2="14.70" stroke="#231f20" stroke-width="0.75"/>
<line x1="-3.90" y1="8.60" x2="12.10" y2="14.70" stroke="#231f20" stroke-width="0.75"/>
<line x1="-3.90" y1="8.60" x2="0.30" y2="29.30" stroke="#231f20" stroke-width="0.75"/>
<line x1="-3.90" y1="8.60" x2="-21.50" y2="14.70" stroke="#231f20" stroke-width="0.75"/>
<line x1="12.10" y1="14.70" x2="28.40" y2="15.50" stroke="#231f20" stroke-width="0.75"/>
<line x1="12.10" y1="14.70" x2="26.30" y2="31.30" stroke="#231f20" stroke-width="0.75"/>
<line x1="12.10" y1="14.70" x2="12.20" y2="40.50" stroke="#231f20" stroke-width="0.75"/>
<line x1="28.40" y1="15.50" x2="42.20" y2="26.70" stroke="#231f20" stroke-width="0.75"/>
<line x1="28.40" y1="15.50" x2="26.30" y2="31.30" stroke="#231f20" stroke-width="0.75"/>
<line x1="28.40" y1="15.50" x2="12.20" y2="40.50" stroke="#231f20" stroke-width="0.75"/>
<line x1="26.30" y1="31.30" x2="42.20" y2="26.70" stroke="#231f20" stroke-width="0.75"/>
<line x1="0.30" y1="29.30" x2="26.30" y2="31.30" stroke="#231f20" stroke-width="0.75"/>
<line x1="0.30" y1="29.30" x2="-1.70" y2="48.20" stroke="#231f20" stroke-width="0.75"/>
<line x1="-1.70" y1="48.20" x2="12.20" y2="40.50" stroke="#231f20" stroke-width="0.75"/>
<line x1="-12.50" y1="35.40" x2="-27.20" y2="42.10" stroke="#231f20" stroke-width="0.75"/>
<line x1="-27.20" y1="42.10" x2="12.20" y2="40.50" stroke="#231f20" stroke-width="0.75"/>
<line x1="-10.10" y1="-42.90" x2="1.60" y2="-50.90" stroke="#231f20" stroke-width="1.1"/>
<line x1="-10.10" y1="-42.90" x2="-21.90" y2="-24.00" stroke="#231f20" stroke-width="2.1"/>
<line x1="-10.10" y1="-42.90" x2="-46.20" y2="-19.80" stroke="#231f20" stroke-width="2.1"/>
<line x1="-10.10" y1="-42.90" x2="-1.80" y2="-23.30" stroke="#231f20" stroke-width="2.1"/>
<line x1="-33.00" y1="-35.70" x2="-21.90" y2="-24.00" stroke="#231f20" stroke-width="2.1"/>
<line x1="-21.90" y1="-24.00" x2="-1.80" y2="-23.30" stroke="#231f20" stroke-width="2.1"/>
<line x1="-21.90" y1="-24.00" x2="-17.90" y2="-5.70" stroke="#231f20" stroke-width="2.1"/>
<line x1="-21.90" y1="-24.00" x2="3.90" y2="-4.90" stroke="#231f20" stroke-width="2.1"/>
<line x1="-1.80" y1="-23.30" x2="-17.90" y2="-5.70" stroke="#231f20" stroke-width="2.1"/>
<line x1="-1.80" y1="-23.30" x2="3.90" y2="-4.90" stroke="#231f20" stroke-width="2.1"/>
<line x1="-1.80" y1="-23.30" x2="16.70" y2="-19.10" stroke="#231f20" stroke-width="2.1"/>
<line x1="16.70" y1="-19.10" x2="21.40" y2="-4.90" stroke="#231f20" stroke-width="2.1"/>
<line x1="-46.20" y1="-19.80" x2="-17.90" y2="-5.70" stroke="#231f20" stroke-width="2.1"/>
<line x1="-46.20" y1="-19.80" x2="-46.00" y2="-4.80" stroke="#231f20" stroke-width="2.1"/>
<line x1="-46.00" y1="-4.80" x2="-17.90" y2="-5.70" stroke="#231f20" stroke-width="2.1"/>
<line x1="-46.00" y1="-4.80" x2="-36.50" y2="8.70" stroke="#231f20" stroke-width="2.1"/>
<line x1="-46.00" y1="-4.80" x2="-36.60" y2="25.90" stroke="#231f20" stroke-width="2.1"/>
<line x1="-36.50" y1="8.70" x2="-17.90" y2="-5.70" stroke="#231f20" stroke-width="2.1"/>
<line x1="-36.50" y1="8.70" x2="-21.50" y2="14.70" stroke="#231f20" stroke-width="2.1"/>
<line x1="-36.50" y1="8.70" x2="-36.60" y2="25.90" stroke="#231f20" stroke-width="2.1"/>
<line x1="-21.50" y1="14.70" x2="-36.60" y2="25.90" stroke="#231f20" stroke-width="2.1"/>
<line x1="-21.50" y1="14.70" x2="-12.50" y2="35.40" stroke="#231f20" stroke-width="2.1"/>
<line x1="-17.90" y1="-5.70" x2="-12.50" y2="35.40" stroke="#231f20" stroke-width="2.1"/>
<line x1="-36.60" y1="25.90" x2="-12.50" y2="35.40" stroke="#231f20" stroke-width="2.1"/>
<line x1="-12.50" y1="35.40" x2="0.30" y2="29.30" stroke="#231f20" stroke-width="2.1"/>
<line x1="-12.50" y1="35.40" x2="12.20" y2="40.50" stroke="#231f20" stroke-width="2.1"/>
<circle cx="-10.10" cy="-42.90" r="4.4" fill="#e3272b" stroke="#231f20" stroke-width="0.8"/>
<circle cx="-33.00" cy="-35.70" r="4.4" fill="#e3272b" stroke="#231f20" stroke-width="0.8"/>
<circle cx="-21.90" cy="-24.00" r="4.4" fill="#e3272b" stroke="#231f20" stroke-width="0.8"/>
<circle cx="-46.20" cy="-19.80" r="4.4" fill="#e3272b" stroke="#231f20" stroke-width="0.8"/>
<circle cx="-1.80" cy="-23.30" r="4.4" fill="#e3272b" stroke="#231f20" stroke-width="0.8"/>
<circle cx="16.70" cy="-19.10" r="4.4" fill="#e3272b" stroke="#231f20" stroke-width="0.8"/>
<circle cx="-17.90" cy="-5.70" r="4.4" fill="#e3272b" stroke="#231f20" stroke-width="0.8"/>
<circle cx="3.90" cy="-4.90" r="4.4" fill="#e3272b" stroke="#231f20" stroke-width="0.8"/>
<circle cx="21.40" cy="-4.90" r="4.4" fill="#e3272b" stroke="#231f20" stroke-width="0.8"/>
<circle cx="1.60" cy="-50.90" r="4.75" fill="#1b1a1a"/>
<circle cx="8.10" cy="-35.90" r="4.75" fill="#1b1a1a"/>
<circle cx="26.70" cy="-36.70" r="4.75" fill="#1b1a1a"/>
<circle cx="35.50" cy="-18.90" r="4.75" fill="#1b1a1a"/>
<circle cx="44.40" cy="-9.60" r="4.75" fill="#1b1a1a"/>
<circle cx="36.70" cy="1.60" r="4.75" fill="#1b1a1a"/>
<circle cx="48.30" cy="11.80" r="4.75" fill="#1b1a1a"/>
<circle cx="-46.00" cy="-4.80" r="4.4" fill="#e3272b" stroke="#231f20" stroke-width="0.8"/>
<circle cx="-36.50" cy="8.70" r="4.4" fill="#e3272b" stroke="#231f20" stroke-width="0.8"/>
<circle cx="-21.50" cy="14.70" r="4.4" fill="#e3272b" stroke="#231f20" stroke-width="0.8"/>
<circle cx="-36.60" cy="25.90" r="4.4" fill="#e3272b" stroke="#231f20" stroke-width="0.8"/>
<circle cx="-12.50" cy="35.40" r="4.4" fill="#e3272b" stroke="#231f20" stroke-width="0.8"/>
<circle cx="0.30" cy="29.30" r="4.4" fill="#e3272b" stroke="#231f20" stroke-width="0.8"/>
<circle cx="12.20" cy="40.50" r="4.4" fill="#e3272b" stroke="#231f20" stroke-width="0.8"/>
<circle cx="-27.20" cy="42.10" r="4.75" fill="#1b1a1a"/>
<circle cx="-1.70" cy="48.20" r="4.75" fill="#1b1a1a"/>
<circle cx="-3.90" cy="8.60" r="4.75" fill="#1b1a1a"/>
<circle cx="12.10" cy="14.70" r="4.75" fill="#1b1a1a"/>
<circle cx="28.40" cy="15.50" r="4.75" fill="#1b1a1a"/>
<circle cx="26.30" cy="31.30" r="4.75" fill="#1b1a1a"/>
<circle cx="42.20" cy="26.70" r="4.75" fill="#1b1a1a"/>
</g>
<g transform="translate(625.5,83.7)">
<path d="M-52.56,-17.54 L-52.55,-17.39 L-52.52,-17.25 L-52.48,-17.11 L-52.43,-16.97 L-52.36,-16.83 L-52.28,-16.71 L-51.23,-15.20 L-51.13,-15.08 L-51.02,-14.96 L-50.91,-14.86 L-50.78,-14.77 L-48.59,-13.41 L-44.21,-10.62 L-44.16,-10.59 L-40.63,-8.53 L-40.48,-8.45 L-36.99,-6.90 L-31.43,-2.11 L-31.30,-2.00 L-31.15,-1.92 L-31.00,-1.85 L-30.84,-1.79 L-25.95,-0.38 L-25.81,-0.35 L-18.62,1.03 L-18.47,1.05 L-9.89,1.84 L-9.74,1.85 L23.23,1.65 L23.40,1.64 L23.57,1.61 L23.74,1.56 L23.89,1.50 L25.71,0.63 L25.84,0.56 L25.97,0.47 L26.08,0.38 L26.19,0.27 L26.28,0.15 L26.37,0.03 L26.44,-0.10 L26.50,-0.24 L27.46,-2.88 L27.50,-3.01 L27.53,-3.14 L27.54,-3.28 L27.55,-3.42 L27.45,-17.15 L27.44,-17.29 L27.06,-21.10 L27.03,-21.27 L26.99,-21.45 L26.01,-24.29 L25.95,-24.43 L25.88,-24.56 L25.80,-24.69 L25.71,-24.81 L24.07,-26.69 L23.96,-26.81 L23.84,-26.91 L23.71,-27.00 L23.57,-27.07 L23.42,-27.14 L20.81,-28.06 L20.64,-28.11 L20.47,-28.14 L20.29,-28.15 L2.53,-28.15 L2.53,-28.15 L2.52,-28.15 L0.63,-28.44 L-1.70,-29.92 L-2.65,-33.25 L-2.85,-43.51 L-2.86,-43.68 L-2.89,-43.84 L-2.94,-44.00 L-4.37,-48.04 L-4.43,-48.18 L-4.50,-48.31 L-4.58,-48.43 L-4.68,-48.55 L-4.78,-48.66 L-6.89,-50.61 L-7.01,-50.71 L-7.14,-50.79 L-7.27,-50.87 L-7.41,-50.93 L-7.56,-50.97 L-7.71,-51.00 L-11.17,-51.52 L-11.32,-51.54 L-11.47,-51.54 L-11.62,-51.52 L-16.15,-50.87 L-16.32,-50.84 L-16.48,-50.79 L-16.64,-50.72 L-21.00,-48.49 L-21.13,-48.42 L-21.26,-48.33 L-21.37,-48.23 L-23.71,-45.99 L-26.63,-44.43 L-32.95,-42.87 L-33.12,-42.82 L-33.28,-42.75 L-40.54,-39.07 L-40.69,-38.99 L-40.82,-38.89 L-46.10,-34.57 L-46.20,-34.48 L-46.29,-34.38 L-46.37,-34.28 L-50.19,-29.03 L-50.27,-28.92 L-50.33,-28.81 L-50.38,-28.69 L-52.63,-23.07 L-52.68,-22.91 L-52.72,-22.76 L-52.74,-22.60 L-52.74,-22.43Z" fill="#f8bd28"/>
<path d="M-52.52,-18.49 L-52.67,-18.45 L-52.81,-18.39 L-52.95,-18.31 L-53.07,-18.22 L-53.19,-18.12 L-53.30,-18.01 L-53.39,-17.89 L-53.47,-17.76 L-53.54,-17.63 L-53.60,-17.48 L-53.64,-17.34 L-53.67,-17.18 L-53.68,-17.03 L-53.67,-16.88 L-53.35,-12.68 L-52.75,-4.02 L-52.74,-3.90 L-51.77,2.72 L-51.73,2.89 L-51.68,3.04 L-48.85,10.57 L-48.79,10.70 L-45.03,18.42 L-45.03,18.42 L-45.03,18.43 L-43.14,25.17 L-43.13,25.23 L-41.80,29.40 L-41.75,29.53 L-41.69,29.66 L-41.62,29.78 L-41.54,29.89 L-39.94,31.91 L-39.83,32.04 L-39.70,32.15 L-39.57,32.25 L-39.43,32.33 L-35.44,34.37 L-35.29,34.43 L-35.14,34.48 L-34.99,34.52 L-34.83,34.54 L-34.67,34.54 L-27.07,34.25 L-21.49,36.90 L-16.89,40.82 L-16.78,40.91 L-16.67,40.99 L-16.54,41.05 L-16.41,41.10 L-9.53,43.59 L-9.39,43.63 L-9.24,43.66 L-2.99,44.64 L-2.98,44.64 L-2.98,44.64 L3.29,46.80 L3.41,46.84 L3.54,46.86 L10.35,48.03 L10.47,48.05 L10.58,48.05 L15.86,48.15 L16.03,48.14 L16.20,48.12 L19.03,47.55 L19.17,47.52 L19.31,47.47 L19.45,47.40 L19.57,47.33 L19.69,47.24 L19.80,47.14 L19.91,47.03 L20.00,46.91 L20.08,46.79 L21.03,45.08 L21.10,44.95 L21.15,44.81 L21.19,44.67 L21.22,44.52 L21.23,44.37 L21.22,44.22 L20.96,40.48 L20.94,40.31 L20.90,40.14 L20.84,39.98 L19.18,36.09 L19.10,35.93 L19.00,35.78 L16.55,32.48 L16.46,32.37 L16.36,32.27 L13.52,29.62 L13.41,29.53 L13.30,29.45 L8.70,26.48 L8.55,26.39 L8.40,26.33 L2.21,24.01 L2.10,23.97 L1.98,23.94 L-2.78,22.97 L-2.83,22.95 L-7.49,21.40 L-10.08,18.14 L-10.75,15.76 L-10.05,6.35 L-10.05,6.29 L-9.65,-3.63 L-9.65,-3.78 L-10.00,-9.44 L-10.02,-9.59 L-10.05,-9.74 L-10.09,-9.88 L-10.15,-10.01 L-10.22,-10.15 L-10.31,-10.27 L-10.40,-10.39 L-10.51,-10.49 L-10.62,-10.59 L-10.74,-10.67 L-10.88,-10.74 L-11.01,-10.80 L-14.74,-12.18 L-14.92,-12.23 L-15.10,-12.26 L-21.93,-13.04 L-21.96,-13.05 L-29.39,-14.44 L-36.82,-18.00 L-36.82,-18.00 L-36.82,-18.00 L-41.27,-21.21 L-41.40,-21.29 L-41.54,-21.36 L-41.68,-21.42 L-41.83,-21.46 L-41.98,-21.49 L-42.13,-21.50 L-42.28,-21.50 L-42.43,-21.48 L-42.58,-21.45 L-42.72,-21.40 L-46.08,-20.14 L-46.13,-20.13 L-50.08,-19.14 L-50.10,-19.14Z" fill="#37c0b7"/>
<path d="M-52.55,-17.39 L-52.52,-17.25 L-52.48,-17.11 L-52.43,-16.97 L-52.36,-16.83 L-52.28,-16.71 L-51.23,-15.20 L-51.13,-15.08 L-51.02,-14.96 L-50.91,-14.86 L-50.78,-14.77 L-48.59,-13.41 L-44.21,-10.62 L-44.16,-10.59 L-40.63,-8.53 L-40.48,-8.45 L-36.99,-6.90 L-31.43,-2.11 L-31.30,-2.00 L-31.15,-1.92 L-31.00,-1.85 L-30.84,-1.79 L-25.95,-0.38 L-25.81,-0.35 L-18.62,1.03 L-18.47,1.05 L-9.89,1.84 L-9.87,1.84 L-9.65,-3.63 L-9.65,-3.78 L-10.00,-9.44 L-10.02,-9.59 L-10.05,-9.74 L-10.09,-9.88 L-10.15,-10.01 L-10.22,-10.15 L-10.31,-10.27 L-10.40,-10.39 L-10.51,-10.49 L-10.62,-10.59 L-10.74,-10.67 L-10.88,-10.74 L-11.01,-10.80 L-14.74,-12.18 L-14.92,-12.23 L-15.10,-12.26 L-21.93,-13.04 L-21.96,-13.05 L-29.39,-14.44 L-36.82,-18.00 L-36.82,-18.00 L-36.82,-18.00 L-41.27,-21.21 L-41.40,-21.29 L-41.54,-21.36 L-41.68,-21.42 L-41.83,-21.46 L-41.98,-21.49 L-42.13,-21.50 L-42.28,-21.50 L-42.43,-21.48 L-42.58,-21.45 L-42.72,-21.40 L-46.08,-20.14 L-46.13,-20.13 L-50.08,-19.14 L-50.10,-19.14 L-52.52,-18.49 L-52.60,-18.47 L-52.56,-17.54Z" fill="#4a8b35"/>
<circle cx="0" cy="0.5" r="57.6" fill="none" stroke="#231f20" stroke-width="1.3"/>
<line x1="1.60" y1="-50.90" x2="8.10" y2="-35.90" stroke="#231f20" stroke-width="0.75"/>
<line x1="1.60" y1="-50.90" x2="26.70" y2="-36.70" stroke="#231f20" stroke-width="0.75"/>
<line x1="-33.00" y1="-35.70" x2="8.10" y2="-35.90" stroke="#231f20" stroke-width="0.75"/>
<line x1="8.10" y1="-35.90" x2="16.70" y2="-19.10" stroke="#231f20" stroke-width="0.75"/>
<line x1="26.70" y1="-36.70" x2="35.50" y2="-18.90" stroke="#231f20" stroke-width="0.75"/>
<line x1="16.70" y1="-19.10" x2="35.50" y2="-18.90" stroke="#231f20" stroke-width="0.75"/>
<line x1="35.50" y1="-18.90" x2="44.40" y2="-9.60" stroke="#231f20" stroke-width="0.75"/>
<line x1="35.50" y1="-18.90" x2="36.70" y2="1.60" stroke="#231f20" stroke-width="0.75"/>
<line x1="44.40" y1="-9.60" x2="36.70" y2="1.60" stroke="#231f20" stroke-width="0.75"/>
<line x1="21.40" y1="-4.90" x2="44.40" y2="-9.60" stroke="#231f20" stroke-width="0.75"/>
<line x1="36.70" y1="1.60" x2="48.30" y2="11.80" stroke="#231f20" stroke-width="0.75"/>
<line x1="36.70" y1="1.60" x2="12.10" y2="14.70" stroke="#231f20" stroke-width="0.75"/>
<line x1="36.70" y1="1.60" x2="28.40" y2="15.50" stroke="#231f20" stroke-width="0.75"/>
<line x1="36.70" y1="1.60" x2="42.20" y2="26.70" stroke="#231f20" stroke-width="0.75"/>
<line x1="3.90" y1="-4.90" x2="-3.90" y2="8.60" stroke="#231f20" stroke-width="0.75"/>
<line x1="16.70" y1="-19.10" x2="12.10" y2="14.70" stroke="#231f20" stroke-width="0.75"/>
<line x1="21.40" y1="-4.90" x2="12.10" y2="14.70" stroke="#231f20" stroke-width="0.75"/>
<line x1="-3.90" y1="8.60" x2="12.10" y2="14.70" stroke="#231f20" stroke-width="0.75"/>
<line x1="-3.90" y1="8.60" x2="0.30" y2="29.30" stroke="#231f20" stroke-width="0.75"/>
<line x1="-3.90" y1="8.60" x2="-21.50" y2="14.70" stroke="#231f20" stroke-width="0.75"/>
<line x1="12.10" y1="14.70" x2="28.40" y2="15.50" stroke="#231f20" stroke-width="0.75"/>
<line x1="12.10" y1="14.70" x2="26.30" y2="31.30" stroke="#231f20" stroke-width="0.75"/>
<line x1="12.10" y1="14.70" x2="12.20" y2="40.50" stroke="#231f20" stroke-width="0.75"/>
<line x1="28.40" y1="15.50" x2="42.20" y2="26.70" stroke="#231f20" stroke-width="0.75"/>
<line x1="28.40" y1="15.50" x2="26.30" y2="31.30" stroke="#231f20" stroke-width="0.75"/>
<line x1="28.40" y1="15.50" x2="12.20" y2="40.50" stroke="#231f20" stroke-width="0.75"/>
<line x1="26.30" y1="31.30" x2="42.20" y2="26.70" stroke="#231f20" stroke-width="0.75"/>
<line x1="0.30" y1="29.30" x2="26.30" y2="31.30" stroke="#231f20" stroke-width="0.75"/>
<line x1="0.30" y1="29.30" x2="-1.70" y2="48.20" stroke="#231f20" stroke-width="0.75"/>
<line x1="-1.70" y1="48.20" x2="12.20" y2="40.50" stroke="#231f20" stroke-width="0.75"/>
<line x1="-12.50" y1="35.40" x2="-27.20" y2="42.10" stroke="#231f20" stroke-width="0.75"/>
<line x1="-27.20" y1="42.10" x2="12.20" y2="40.50" stroke="#231f20" stroke-width="0.75"/>
<line x1="-10.10" y1="-42.90" x2="1.60" y2="-50.90" stroke="#231f20" stroke-width="1.1"/>
<line x1="-10.10" y1="-42.90" x2="-21.90" y2="-24.00" stroke="#231f20" stroke-width="2.1"/>
<line x1="-10.10" y1="-42.90" x2="-46.20" y2="-19.80" stroke="#231f20" stroke-width="2.1"/>
<line x1="-10.10" y1="-42.90" x2="-1.80" y2="-23.30" stroke="#231f20" stroke-width="2.1"/>
<line x1="-33.00" y1="-35.70" x2="-21.90" y2="-24.00" stroke="#231f20" stroke-width="2.1"/>
<line x1="-21.90" y1="-24.00" x2="-1.80" y2="-23.30" stroke="#231f20" stroke-width="2.1"/>
<line x1="-21.90" y1="-24.00" x2="-17.90" y2="-5.70" stroke="#231f20" stroke-width="2.1"/>
<line x1="-21.90" y1="-24.00" x2="3.90" y2="-4.90" stroke="#231f20" stroke-width="2.1"/>
<line x1="-1.80" y1="-23.30" x2="-17.90" y2="-5.70" stroke="#231f20" stroke-width="2.1"/>
<line x1="-1.80" y1="-23.30" x2="3.90" y2="-4.90" stroke="#231f20" stroke-width="2.1"/>
<line x1="-1.80" y1="-23.30" x2="16.70" y2="-19.10" stroke="#231f20" stroke-width="2.1"/>
<line x1="16.70" y1="-19.10" x2="21.40" y2="-4.90" stroke="#231f20" stroke-width="2.1"/>
<line x1="-46.20" y1="-19.80" x2="-17.90" y2="-5.70" stroke="#231f20" stroke-width="2.1"/>
<line x1="-46.20" y1="-19.80" x2="-46.00" y2="-4.80" stroke="#231f20" stroke-width="2.1"/>
<line x1="-46.00" y1="-4.80" x2="-17.90" y2="-5.70" stroke="#231f20" stroke-width="2.1"/>
<line x1="-46.00" y1="-4.80" x2="-36.50" y2="8.70" stroke="#231f20" stroke-width="2.1"/>
<line x1="-46.00" y1="-4.80" x2="-36.60" y2="25.90" stroke="#231f20" stroke-width="2.1"/>
<line x1="-36.50" y1="8.70" x2="-17.90" y2="-5.70" stroke="#231f20" stroke-width="2.1"/>
<line x1="-36.50" y1="8.70" x2="-21.50" y2="14.70" stroke="#231f20" stroke-width="2.1"/>
<line x1="-36.50" y1="8.70" x2="-36.60" y2="25.90" stroke="#231f20" stroke-width="2.1"/>
<line x1="-21.50" y1="14.70" x2="-36.60" y2="25.90" stroke="#231f20" stroke-width="2.1"/>
<line x1="-21.50" y1="14.70" x2="-12.50" y2="35.40" stroke="#231f20" stroke-width="2.1"/>
<line x1="-17.90" y1="-5.70" x2="-12.50" y2="35.40" stroke="#231f20" stroke-width="2.1"/>
<line x1="-36.60" y1="25.90" x2="-12.50" y2="35.40" stroke="#231f20" stroke-width="2.1"/>
<line x1="-12.50" y1="35.40" x2="0.30" y2="29.30" stroke="#231f20" stroke-width="2.1"/>
<line x1="-12.50" y1="35.40" x2="12.20" y2="40.50" stroke="#231f20" stroke-width="2.1"/>
<circle cx="-10.10" cy="-42.90" r="4.4" fill="#e3272b" stroke="#231f20" stroke-width="0.8"/>
<circle cx="-33.00" cy="-35.70" r="4.75" fill="#1b1a1a"/>
<circle cx="-21.90" cy="-24.00" r="4.4" fill="#e3272b" stroke="#231f20" stroke-width="0.8"/>
<circle cx="-46.20" cy="-19.80" r="4.75" fill="#1b1a1a"/>
<circle cx="-1.80" cy="-23.30" r="4.4" fill="#e3272b" stroke="#231f20" stroke-width="0.8"/>
<circle cx="16.70" cy="-19.10" r="4.75" fill="#1b1a1a"/>
<circle cx="-17.90" cy="-5.70" r="4.75" fill="#1b1a1a"/>
<circle cx="3.90" cy="-4.90" r="4.75" fill="#1b1a1a"/>
<circle cx="21.40" cy="-4.90" r="4.75" fill="#1b1a1a"/>
<circle cx="1.60" cy="-50.90" r="4.75" fill="#1b1a1a"/>
<circle cx="8.10" cy="-35.90" r="4.75" fill="#1b1a1a"/>
<circle cx="26.70" cy="-36.70" r="4.75" fill="#1b1a1a"/>
<circle cx="35.50" cy="-18.90" r="4.75" fill="#1b1a1a"/>
<circle cx="44.40" cy="-9.60" r="4.75" fill="#1b1a1a"/>
<circle cx="36.70" cy="1.60" r="4.75" fill="#1b1a1a"/>
<circle cx="48.30" cy="11.80" r="4.75" fill="#1b1a1a"/>
<circle cx="-46.00" cy="-4.80" r="4.75" fill="#1b1a1a"/>
<circle cx="-36.50" cy="8.70" r="4.75" fill="#1b1a1a"/>
<circle cx="-21.50" cy="14.70" r="4.75" fill="#1b1a1a"/>
<circle cx="-36.60" cy="25.90" r="4.75" fill="#1b1a1a"/>
<circle cx="-12.50" cy="35.40" r="4.75" fill="#1b1a1a"/>
<circle cx="0.30" cy="29.30" r="4.75" fill="#1b1a1a"/>
<circle cx="12.20" cy="40.50" r="4.75" fill="#1b1a1a"/>
<circle cx="-27.20" cy="42.10" r="4.75" fill="#1b1a1a"/>
<circle cx="-1.70" cy="48.20" r="4.75" fill="#1b1a1a"/>
<circle cx="-3.90" cy="8.60" r="4.75" fill="#1b1a1a"/>
<circle cx="12.10" cy="14.70" r="4.75" fill="#1b1a1a"/>
<circle cx="28.40" cy="15.50" r="4.75" fill="#1b1a1a"/>
<circle cx="26.30" cy="31.30" r="4.75" fill="#1b1a1a"/>
<circle cx="42.20" cy="26.70" r="4.75" fill="#1b1a1a"/>
</g>
<g transform="translate(175.0,225.9)">
<path d="M-52.56,-17.54 L-52.55,-17.39 L-52.52,-17.25 L-52.48,-17.11 L-52.43,-16.97 L-52.36,-16.83 L-52.28,-16.71 L-51.23,-15.20 L-51.13,-15.08 L-51.02,-14.96 L-50.91,-14.86 L-50.78,-14.77 L-48.59,-13.41 L-44.21,-10.62 L-44.16,-10.59 L-40.63,-8.53 L-40.48,-8.45 L-36.99,-6.90 L-31.43,-2.11 L-31.30,-2.00 L-31.15,-1.92 L-31.00,-1.85 L-30.84,-1.79 L-25.95,-0.38 L-25.81,-0.35 L-18.62,1.03 L-18.47,1.05 L-9.89,1.84 L-9.74,1.85 L23.23,1.65 L23.40,1.64 L23.57,1.61 L23.74,1.56 L23.89,1.50 L25.71,0.63 L25.84,0.56 L25.97,0.47 L26.08,0.38 L26.19,0.27 L26.28,0.15 L26.37,0.03 L26.44,-0.10 L26.50,-0.24 L27.46,-2.88 L27.50,-3.01 L27.53,-3.14 L27.54,-3.28 L27.55,-3.42 L27.45,-17.15 L27.44,-17.29 L27.06,-21.10 L27.03,-21.27 L26.99,-21.45 L26.01,-24.29 L25.95,-24.43 L25.88,-24.56 L25.80,-24.69 L25.71,-24.81 L24.07,-26.69 L23.96,-26.81 L23.84,-26.91 L23.71,-27.00 L23.57,-27.07 L23.42,-27.14 L20.81,-28.06 L20.64,-28.11 L20.47,-28.14 L20.29,-28.15 L2.53,-28.15 L2.53,-28.15 L2.52,-28.15 L0.63,-28.44 L-1.70,-29.92 L-2.65,-33.25 L-2.85,-43.51 L-2.86,-43.68 L-2.89,-43.84 L-2.94,-44.00 L-4.37,-48.04 L-4.43,-48.18 L-4.50,-48.31 L-4.58,-48.43 L-4.68,-48.55 L-4.78,-48.66 L-6.89,-50.61 L-7.01,-50.71 L-7.14,-50.79 L-7.27,-50.87 L-7.41,-50.93 L-7.56,-50.97 L-7.71,-51.00 L-11.17,-51.52 L-11.32,-51.54 L-11.47,-51.54 L-11.62,-51.52 L-16.15,-50.87 L-16.32,-50.84 L-16.48,-50.79 L-16.64,-50.72 L-21.00,-48.49 L-21.13,-48.42 L-21.26,-48.33 L-21.37,-48.23 L-23.71,-45.99 L-26.63,-44.43 L-32.95,-42.87 L-33.12,-42.82 L-33.28,-42.75 L-40.54,-39.07 L-40.69,-38.99 L-40.82,-38.89 L-46.10,-34.57 L-46.20,-34.48 L-46.29,-34.38 L-46.37,-34.28 L-50.19,-29.03 L-50.27,-28.92 L-50.33,-28.81 L-50.38,-28.69 L-52.63,-23.07 L-52.68,-22.91 L-52.72,-22.76 L-52.74,-22.60 L-52.74,-22.43Z" fill="#f8bd28"/>
<path d="M-51.88,-17.07 L-52.04,-17.08 L-52.19,-17.08 L-52.34,-17.06 L-52.49,-17.02 L-52.64,-16.98 L-52.78,-16.91 L-52.91,-16.83 L-53.03,-16.74 L-53.15,-16.64 L-53.25,-16.53 L-53.35,-16.41 L-53.43,-16.28 L-53.49,-16.14 L-53.54,-15.99 L-53.58,-15.85 L-53.61,-15.69 L-53.61,-15.54 L-53.61,-15.39 L-53.35,-12.68 L-53.35,-12.67 L-52.75,-4.02 L-52.74,-3.90 L-51.77,2.72 L-51.73,2.89 L-51.68,3.04 L-48.85,10.57 L-48.79,10.70 L-45.03,18.42 L-45.03,18.42 L-45.03,18.43 L-43.14,25.17 L-43.13,25.23 L-41.80,29.40 L-41.75,29.53 L-41.69,29.66 L-41.62,29.78 L-41.54,29.89 L-39.94,31.91 L-39.83,32.04 L-39.70,32.15 L-39.57,32.25 L-39.43,32.33 L-35.44,34.37 L-35.29,34.43 L-35.14,34.48 L-34.99,34.52 L-34.83,34.54 L-34.67,34.54 L-27.07,34.25 L-21.49,36.90 L-16.89,40.82 L-16.78,40.91 L-16.67,40.99 L-16.54,41.05 L-16.41,41.10 L-9.53,43.59 L-9.39,43.63 L-9.24,43.66 L-2.99,44.64 L-2.98,44.64 L-2.98,44.64 L3.29,46.80 L3.41,46.84 L3.54,46.86 L10.35,48.03 L10.47,48.05 L10.58,48.05 L15.86,48.15 L16.03,48.14 L16.20,48.12 L19.03,47.55 L19.17,47.52 L19.31,47.47 L19.45,47.40 L19.57,47.33 L19.69,47.24 L19.80,47.14 L19.91,47.03 L20.00,46.91 L20.08,46.79 L21.03,45.08 L21.10,44.95 L21.15,44.81 L21.19,44.67 L21.22,44.52 L21.23,44.37 L21.22,44.22 L20.96,40.48 L20.94,40.31 L20.90,40.14 L20.84,39.98 L19.18,36.09 L19.10,35.93 L19.00,35.78 L16.55,32.48 L16.46,32.37 L16.36,32.27 L13.52,29.62 L13.41,29.53 L13.30,29.45 L8.70,26.48 L8.55,26.39 L8.40,26.33 L2.21,24.01 L2.10,23.97 L1.98,23.94 L-2.78,22.97 L-2.83,22.95 L-7.49,21.40 L-10.08,18.14 L-10.75,15.76 L-10.05,6.35 L-10.05,6.29 L-9.65,-3.65 L-9.65,-3.74 L-9.75,-10.74 L-9.76,-10.91 L-9.79,-11.07 L-9.84,-11.24 L-9.90,-11.40 L-11.79,-15.25 L-11.86,-15.38 L-11.94,-15.50 L-12.03,-15.61 L-12.13,-15.71 L-21.44,-24.34 L-21.46,-24.36 L-25.17,-28.36 L-25.27,-28.46 L-25.37,-28.54 L-27.38,-30.07 L-27.51,-30.16 L-27.65,-30.23 L-27.79,-30.29 L-27.94,-30.34 L-28.09,-30.37 L-28.25,-30.38 L-28.40,-30.38 L-28.56,-30.37 L-30.39,-30.09 L-30.56,-30.05 L-30.72,-30.00 L-30.87,-29.93 L-31.02,-29.84 L-37.13,-25.74 L-37.30,-25.61 L-42.87,-20.62 L-42.95,-20.54 L-43.03,-20.45 L-46.25,-16.56 L-49.96,-16.85 L-49.97,-16.85Z" fill="#37c0b7"/>
<path d="M-52.43,-16.97 L-52.36,-16.83 L-52.28,-16.71 L-51.23,-15.20 L-51.13,-15.08 L-51.02,-14.96 L-50.91,-14.86 L-50.78,-14.77 L-48.59,-13.41 L-44.21,-10.62 L-44.16,-10.59 L-40.63,-8.53 L-40.48,-8.45 L-36.99,-6.90 L-31.43,-2.11 L-31.30,-2.00 L-31.15,-1.92 L-31.00,-1.85 L-30.84,-1.79 L-25.95,-0.38 L-25.81,-0.35 L-18.62,1.03 L-18.47,1.05 L-9.89,1.84 L-9.87,1.84 L-9.65,-3.65 L-9.65,-3.74 L-9.75,-10.74 L-9.76,-10.91 L-9.79,-11.07 L-9.84,-11.24 L-9.90,-11.40 L-11.79,-15.25 L-11.86,-15.38 L-11.94,-15.50 L-12.03,-15.61 L-12.13,-15.71 L-21.44,-24.34 L-21.46,-24.36 L-25.17,-28.36 L-25.27,-28.46 L-25.37,-28.54 L-27.38,-30.07 L-27.51,-30.16 L-27.65,-30.23 L-27.79,-30.29 L-27.94,-30.34 L-28.09,-30.37 L-28.25,-30.38 L-28.40,-30.38 L-28.56,-30.37 L-30.39,-30.09 L-30.56,-30.05 L-30.72,-30.00 L-30.87,-29.93 L-31.02,-29.84 L-37.13,-25.74 L-37.30,-25.61 L-42.87,-20.62 L-42.95,-20.54 L-43.03,-20.45 L-46.25,-16.56 L-49.96,-16.85 L-49.97,-16.85 L-51.88,-17.07 L-52.04,-17.08 L-52.19,-17.08 L-52.34,-17.06 L-52.46,-17.03Z" fill="#4a8b35"/>
<circle cx="0" cy="0.5" r="57.6" fill="none" stroke="#231f20" stroke-width="1.3"/>
<line x1="1.60" y1="-50.90" x2="8.10" y2="-35.90" stroke="#231f20" stroke-width="0.75"/>
<line x1="1.60" y1="-50.90" x2="26.70" y2="-36.70" stroke="#231f20" stroke-width="0.75"/>
<line x1="-33.00" y1="-35.70" x2="8.10" y2="-35.90" stroke="#231f20" stroke-width="0.75"/>
<line x1="8.10" y1="-35.90" x2="16.70" y2="-19.10" stroke="#231f20" stroke-width="0.75"/>
<line x1="26.70" y1="-36.70" x2="35.50" y2="-18.90" stroke="#231f20" stroke-width="0.75"/>
<line x1="16.70" y1="-19.10" x2="35.50" y2="-18.90" stroke="#231f20" stroke-width="0.75"/>
<line x1="35.50" y1="-18.90" x2="44.40" y2="-9.60" stroke="#231f20" stroke-width="0.75"/>
<line x1="35.50" y1="-18.90" x2="36.70" y2="1.60" stroke="#231f20" stroke-width="0.75"/>
<line x1="44.40" y1="-9.60" x2="36.70" y2="1.60" stroke="#231f20" stroke-width="0.75"/>
<line x1="21.40" y1="-4.90" x2="44.40" y2="-9.60" stroke="#231f20" stroke-width="0.75"/>
<line x1="36.70" y1="1.60" x2="48.30" y2="11.80" stroke="#231f20" stroke-width="0.75"/>
<line x1="36.70" y1="1.60" x2="12.10" y2="14.70" stroke="#231f20" stroke-width="0.75"/>
<line x1="36.70" y1="1.60" x2="28.40" y2="15.50" stroke="#231f20" stroke-width="0.75"/>
<line x1="36.70" y1="1.60" x2="42.20" y2="26.70" stroke="#231f20" stroke-width="0.75"/>
<line x1="3.90" y1="-4.90" x2="-3.90" y2="8.60" stroke="#231f20" stroke-width="0.75"/>
<line x1="16.70" y1="-19.10" x2="12.10" y2="14.70" stroke="#231f20" stroke-width="0.75"/>
<line x1="21.40" y1="-4.90" x2="12.10" y2="14.70" stroke="#231f20" stroke-width="0.75"/>
<line x1="-3.90" y1="8.60" x2="12.10" y2="14.70" stroke="#231f20" stroke-width="0.75"/>
<line x1="-3.90" y1="8.60" x2="0.30" y2="29.30" stroke="#231f20" stroke-width="0.75"/>
<line x1="-3.90" y1="8.60" x2="-21.50" y2="14.70" stroke="#231f20" stroke-width="0.75"/>
<line x1="12.10" y1="14.70" x2="28.40" y2="15.50" stroke="#231f20" stroke-width="0.75"/>
<line x1="12.10" y1="14.70" x2="26.30" y2="31.30" stroke="#231f20" stroke-width="0.75"/>
<line x1="12.10" y1="14.70" x2="12.20" y2="40.50" stroke="#231f20" stroke-width="0.75"/>
<line x1="28.40" y1="15.50" x2="42.20" y2="26.70" stroke="#231f20" stroke-width="0.75"/>
<line x1="28.40" y1="15.50" x2="26.30" y2="31.30" stroke="#231f20" stroke-width="0.75"/>
<line x1="28.40" y1="15.50" x2="12.20" y2="40.50" stroke="#231f20" stroke-width="0.75"/>
<line x1="26.30" y1="31.30" x2="42.20" y2="26.70" stroke="#231f20" stroke-width="0.75"/>
<line x1="0.30" y1="29.30" x2="26.30" y2="31.30" stroke="#231f20" stroke-width="0.75"/>
<line x1="0.30" y1="29.30" x2="-1.70" y2="48.20" stroke="#231f20" stroke-width="0.75"/>
<line x1="-1.70" y1="48.20" x2="12.20" y2="40.50" stroke="#231f20" stroke-width="0.75"/>
<line x1="-12.50" y1="35.40" x2="-27.20" y2="42.10" stroke="#231f20" stroke-width="0.75"/>
<line x1="-27.20" y1="42.10" x2="12.20" y2="40.50" stroke="#231f20" stroke-width="0.75"/>
<line x1="-10.10" y1="-42.90" x2="1.60" y2="-50.90" stroke="#231f20" stroke-width="1.1"/>
<line x1="-10.10" y1="-42.90" x2="-21.90" y2="-24.00" stroke="#231f20" stroke-width="2.1"/>
<line x1="-10.10" y1="-42.90" x2="-46.20" y2="-19.80" stroke="#231f20" stroke-width="2.1"/>
<line x1="-10.10" y1="-42.90" x2="-1.80" y2="-23.30" stroke="#231f20" stroke-width="2.1"/>
<line x1="-33.00" y1="-35.70" x2="-21.90" y2="-24.00" stroke="#231f20" stroke-width="2.1"/>
<line x1="-21.90" y1="-24.00" x2="-1.80" y2="-23.30" stroke="#231f20" stroke-width="2.1"/>
<line x1="-21.90" y1="-24.00" x2="-17.90" y2="-5.70" stroke="#231f20" stroke-width="2.1"/>
<line x1="-21.90" y1="-24.00" x2="3.90" y2="-4.90" stroke="#231f20" stroke-width="2.1"/>
<line x1="-1.80" y1="-23.30" x2="-17.90" y2="-5.70" stroke="#231f20" stroke-width="2.1"/>
<line x1="-1.80" y1="-23.30" x2="3.90" y2="-4.90" stroke="#231f20" stroke-width="2.1"/>
<line x1="-1.80" y1="-23.30" x2="16.70" y2="-19.10" stroke="#231f20" stroke-width="2.1"/>
<line x1="16.70" y1="-19.10" x2="21.40" y2="-4.90" stroke="#231f20" stroke-width="2.1"/>
<line x1="-46.20" y1="-19.80" x2="-17.90" y2="-5.70" stroke="#231f20" stroke-width="2.1"/>
<line x1="-46.20" y1="-19.80" x2="-46.00" y2="-4.80" stroke="#231f20" stroke-width="2.1"/>
<line x1="-46.00" y1="-4.80" x2="-17.90" y2="-5.70" stroke="#231f20" stroke-width="2.1"/>
<line x1="-46.00" y1="-4.80" x2="-36.50" y2="8.70" stroke="#231f20" stroke-width="2.1"/>
<line x1="-46.00" y1="-4.80" x2="-36.60" y2="25.90" stroke="#231f20" stroke-width="2.1"/>
<line x1="-36.50" y1="8.70" x2="-17.90" y2="-5.70" stroke="#231f20" stroke-width="2.1"/>
<line x1="-36.50" y1="8.70" x2="-21.50" y2="14.70" stroke="#231f20" stroke-width="2.1"/>
<line x1="-36.50" y1="8.70" x2="-36.60" y2="25.90" stroke="#231f20" stroke-width="2.1"/>
<line x1="-21.50" y1="14.70" x2="-36.60" y2="25.90" stroke="#231f20" stroke-width="2.1"/>
<line x1="-21.50" y1="14.70" x2="-12.50" y2="35.40" stroke="#231f20" stroke-width="2.1"/>
<line x1="-17.90" y1="-5.70" x2="-12.50" y2="35.40" stroke="#231f20" stroke-width="2.1"/>
<line x1="-36.60" y1="25.90" x2="-12.50" y2="35.40" stroke="#231f20" stroke-width="2.1"/>
<line x1="-12.50" y1="35.40" x2="0.30" y2="29.30" stroke="#231f20" stroke-width="2.1"/>
<line x1="-12.50" y1="35.40" x2="12.20" y2="40.50" stroke="#231f20" stroke-width="2.1"/>
<circle cx="-10.10" cy="-42.90" r="4.4" fill="#e3272b" stroke="#231f20" stroke-width="0.8"/>
<circle cx="-33.00" cy="-35.70" r="4.4" fill="#e3272b" stroke="#231f20" stroke-width="0.8"/>
<circle cx="-21.90" cy="-24.00" r="4.4" fill="#e3272b" stroke="#231f20" stroke-width="0.8"/>
<circle cx="-46.20" cy="-19.80" r="4.4" fill="#e3272b" stroke="#231f20" stroke-width="0.8"/>
<circle cx="-1.80" cy="-23.30" r="4.4" fill="#e3272b" stroke="#231f20" stroke-width="0.8"/>
<circle cx="16.70" cy="-19.10" r="4.4" fill="#e3272b" stroke="#231f20" stroke-width="0.8"/>
<circle cx="-17.90" cy="-5.70" r="4.4" fill="#e3272b" stroke="#231f20" stroke-width="0.8"/>
<circle cx="3.90" cy="-4.90" r="4.4" fill="#e3272b" stroke="#231f20" stroke-width="0.8"/>
<circle cx="21.40" cy="-4.90" r="4.4" fill="#e3272b" stroke="#231f20" stroke-width="0.8"/>
<circle cx="1.60" cy="-50.90" r="4.75" fill="#1b1a1a"/>
<circle cx="8.10" cy="-35.90" r="4.75" fill="#1b1a1a"/>
<circle cx="26.70" cy="-36.70" r="4.75" fill="#1b1a1a"/>
<circle cx="35.50" cy="-18.90" r="4.75" fill="#1b1a1a"/>
<circle cx="44.40" cy="-9.60" r="4.75" fill="#1b1a1a"/>
<circle cx="36.70" cy="1.60" r="4.75" fill="#1b1a1a"/>
<circle cx="48.30" cy="11.80" r="4.75" fill="#1b1a1a"/>
<circle cx="-46.00" cy="-4.80" r="4.75" fill="#1b1a1a"/>
<circle cx="-36.50" cy="8.70" r="4.75" fill="#1b1a1a"/>
<circle cx="-21.50" cy="14.70" r="4.75" fill="#1b1a1a"/>
<circle cx="-36.60" cy="25.90" r="4.75" fill="#1b1a1a"/>
<circle cx="-12.50" cy="35.40" r="4.75" fill="#1b1a1a"/>
<circle cx="0.30" cy="29.30" r="4.75" fill="#1b1a1a"/>
<circle cx="12.20" cy="40.50" r="4.75" fill="#1b1a1a"/>
<circle cx="-27.20" cy="42.10" r="4.75" fill="#1b1a1a"/>
<circle cx="-1.70" cy="48.20" r="4.75" fill="#1b1a1a"/>
<circle cx="-3.90" cy="8.60" r="4.75" fill="#1b1a1a"/>
<circle cx="12.10" cy="14.70" r="4.75" fill="#1b1a1a"/>
<circle cx="28.40" cy="15.50" r="4.75" fill="#1b1a1a"/>
<circle cx="26.30" cy="31.30" r="4.75" fill="#1b1a1a"/>
<circle cx="42.20" cy="26.70" r="4.75" fill="#1b1a1a"/>
</g>
<g transform="translate(326.9,225.9)">
<path d="M-52.56,-17.54 L-52.55,-17.39 L-52.52,-17.25 L-52.48,-17.11 L-52.43,-16.97 L-52.36,-16.83 L-52.28,-16.71 L-51.23,-15.20 L-51.13,-15.08 L-51.02,-14.96 L-50.91,-14.86 L-50.78,-14.77 L-48.59,-13.41 L-44.21,-10.62 L-44.16,-10.59 L-40.63,-8.53 L-40.48,-8.45 L-36.99,-6.90 L-31.43,-2.11 L-31.30,-2.00 L-31.15,-1.92 L-31.00,-1.85 L-30.84,-1.79 L-25.95,-0.38 L-25.81,-0.35 L-18.62,1.03 L-18.47,1.05 L-9.89,1.84 L-9.74,1.85 L23.23,1.65 L23.40,1.64 L23.57,1.61 L23.74,1.56 L23.89,1.50 L25.71,0.63 L25.84,0.56 L25.97,0.47 L26.08,0.38 L26.19,0.27 L26.28,0.15 L26.37,0.03 L26.44,-0.10 L26.50,-0.24 L27.46,-2.88 L27.50,-3.01 L27.53,-3.14 L27.54,-3.28 L27.55,-3.42 L27.45,-17.15 L27.44,-17.29 L27.06,-21.10 L27.03,-21.27 L26.99,-21.45 L26.01,-24.29 L25.95,-24.43 L25.88,-24.56 L25.80,-24.69 L25.71,-24.81 L24.07,-26.69 L23.96,-26.81 L23.84,-26.91 L23.71,-27.00 L23.57,-27.07 L23.42,-27.14 L20.81,-28.06 L20.64,-28.11 L20.47,-28.14 L20.29,-28.15 L2.53,-28.15 L2.53,-28.15 L2.52,-28.15 L0.63,-28.44 L-1.70,-29.92 L-2.65,-33.25 L-2.85,-43.51 L-2.86,-43.68 L-2.89,-43.84 L-2.94,-44.00 L-4.37,-48.04 L-4.43,-48.18 L-4.50,-48.31 L-4.58,-48.43 L-4.68,-48.55 L-4.78,-48.66 L-6.89,-50.61 L-7.01,-50.71 L-7.14,-50.79 L-7.27,-50.87 L-7.41,-50.93 L-7.56,-50.97 L-7.71,-51.00 L-11.17,-51.52 L-11.32,-51.54 L-11.47,-51.54 L-11.62,-51.52 L-16.15,-50.87 L-16.32,-50.84 L-16.48,-50.79 L-16.64,-50.72 L-21.00,-48.49 L-21.13,-48.42 L-21.26,-48.33 L-21.37,-48.23 L-23.71,-45.99 L-26.63,-44.43 L-32.95,-42.87 L-33.12,-42.82 L-33.28,-42.75 L-40.54,-39.07 L-40.69,-38.99 L-40.82,-38.89 L-46.10,-34.57 L-46.20,-34.48 L-46.29,-34.38 L-46.37,-34.28 L-50.19,-29.03 L-50.27,-28.92 L-50.33,-28.81 L-50.38,-28.69 L-52.63,-23.07 L-52.68,-22.91 L-52.72,-22.76 L-52.74,-22.60 L-52.74,-22.43Z" fill="#f8bd28"/>
<path d="M-51.88,-17.07 L-52.04,-17.08 L-52.19,-17.08 L-52.34,-17.06 L-52.49,-17.02 L-52.64,-16.98 L-52.78,-16.91 L-52.91,-16.83 L-53.03,-16.74 L-53.15,-16.64 L-53.25,-16.53 L-53.35,-16.41 L-53.43,-16.28 L-53.49,-16.14 L-53.54,-15.99 L-53.58,-15.85 L-53.61,-15.69 L-53.61,-15.54 L-53.61,-15.39 L-53.35,-12.68 L-53.35,-12.67 L-52.75,-4.02 L-52.74,-3.90 L-51.77,2.72 L-51.73,2.89 L-51.68,3.04 L-48.85,10.57 L-48.79,10.70 L-45.03,18.42 L-45.03,18.42 L-45.03,18.43 L-43.14,25.17 L-43.13,25.23 L-41.80,29.40 L-41.75,29.53 L-41.69,29.66 L-41.62,29.78 L-41.54,29.89 L-39.94,31.91 L-39.83,32.04 L-39.70,32.15 L-39.57,32.25 L-39.43,32.33 L-35.44,34.37 L-35.29,34.43 L-35.14,34.48 L-34.99,34.52 L-34.83,34.54 L-34.67,34.54 L-27.07,34.25 L-21.49,36.90 L-16.89,40.82 L-16.78,40.91 L-16.67,40.99 L-16.54,41.05 L-16.41,41.10 L-9.53,43.59 L-9.39,43.63 L-9.24,43.66 L-2.99,44.64 L-2.98,44.64 L-2.98,44.64 L3.29,46.80 L3.41,46.84 L3.54,46.86 L10.35,48.03 L10.47,48.05 L10.58,48.05 L15.86,48.15 L16.03,48.14 L16.20,48.12 L19.03,47.55 L19.17,47.52 L19.31,47.47 L19.45,47.40 L19.57,47.33 L19.69,47.24 L19.80,47.14 L19.91,47.03 L20.00,46.91 L20.08,46.79 L21.03,45.08 L21.10,44.95 L21.15,44.81 L21.19,44.67 L21.22,44.52 L21.23,44.37 L21.22,44.22 L20.96,40.48 L20.94,40.31 L20.90,40.14 L20.84,39.98 L19.18,36.09 L19.10,35.93 L19.00,35.78 L16.55,32.48 L16.46,32.37 L16.36,32.27 L13.52,29.62 L13.41,29.53 L13.30,29.45 L8.70,26.48 L8.55,26.39 L8.40,26.33 L2.21,24.01 L2.10,23.97 L1.98,23.94 L-2.78,22.97 L-2.83,22.95 L-7.49,21.40 L-10.08,18.14 L-10.75,15.76 L-10.05,6.35 L-10.05,6.29 L-9.65,-3.65 L-9.65,-3.74 L-9.75,-10.74 L-9.76,-10.91 L-9.79,-11.07 L-9.84,-11.24 L-9.90,-11.40 L-11.79,-15.25 L-11.86,-15.38 L-11.94,-15.50 L-12.03,-15.61 L-12.13,-15.71 L-21.44,-24.34 L-21.46,-24.36 L-25.17,-28.36 L-25.27,-28.46 L-25.37,-28.54 L-27.38,-30.07 L-27.51,-30.16 L-27.65,-30.23 L-27.79,-30.29 L-27.94,-30.34 L-28.09,-30.37 L-28.25,-30.38 L-28.40,-30.38 L-28.56,-30.37 L-30.39,-30.09 L-30.56,-30.05 L-30.72,-30.00 L-30.87,-29.93 L-31.02,-29.84 L-37.13,-25.74 L-37.30,-25.61 L-42.87,-20.62 L-42.95,-20.54 L-43.03,-20.45 L-46.25,-16.56 L-49.96,-16.85 L-49.97,-16.85Z" fill="#37c0b7"/>
<path d="M-52.43,-16.97 L-52.36,-16.83 L-52.28,-16.71 L-51.23,-15.20 L-51.13,-15.08 L-51.02,-14.96 L-50.91,-14.86 L-50.78,-14.77 L-48.59,-13.41 L-44.21,-10.62 L-44.16,-10.59 L-40.63,-8.53 L-40.48,-8.45 L-36.99,-6.90 L-31.43,-2.11 L-31.30,-2.00 L-31.15,-1.92 L-31.00,-1.85 L-30.84,-1.79 L-25.95,-0.38 L-25.81,-0.35 L-18.62,1.03 L-18.47,1.05 L-9.89,1.84 L-9.87,1.84 L-9.65,-3.65 L-9.65,-3.74 L-9.75,-10.74 L-9.76,-10.91 L-9.79,-11.07 L-9.84,-11.24 L-9.90,-11.40 L-11.79,-15.25 L-11.86,-15.38 L-11.94,-15.50 L-12.03,-15.61 L-12.13,-15.71 L-21.44,-24.34 L-21.46,-24.36 L-25.17,-28.36 L-25.27,-28.46 L-25.37,-28.54 L-27.38,-30.07 L-27.51,-30.16 L-27.65,-30.23 L-27.79,-30.29 L-27.94,-30.34 L-28.09,-30.37 L-28.25,-30.38 L-28.40,-30.38 L-28.56,-30.37 L-30.39,-30.09 L-30.56,-30.05 L-30.72,-30.00 L-30.87,-29.93 L-31.02,-29.84 L-37.13,-25.74 L-37.30,-25.61 L-42.87,-20.62 L-42.95,-20.54 L-43.03,-20.45 L-46.25,-16.56 L-49.96,-16.85 L-49.97,-16.85 L-51.88,-17.07 L-52.04,-17.08 L-52.19,-17.08 L-52.34,-17.06 L-52.46,-17.03Z" fill="#4a8b35"/>
<circle cx="0" cy="0.5" r="57.6" fill="none" stroke="#231f20" stroke-width="1.3"/>
<line x1="1.60" y1="-50.90" x2="8.10" y2="-35.90" stroke="#231f20" stroke-width="0.75"/>
<line x1="1.60" y1="-50.90" x2="26.70" y2="-36.70" stroke="#231f20" stroke-width="0.75"/>
<line x1="-33.00" y1="-35.70" x2="8.10" y2="-35.90" stroke="#231f20" stroke-width="0.75"/>
<line x1="8.10" y1="-35.90" x2="16.70" y2="-19.10" stroke="#231f20" stroke-width="0.75"/>
<line x1="26.70" y1="-36.70" x2="35.50" y2="-18.90" stroke="#231f20" stroke-width="0.75"/>
<line x1="16.70" y1="-19.10" x2="35.50" y2="-18.90" stroke="#231f20" stroke-width="0.75"/>
<line x1="35.50" y1="-18.90" x2="44.40" y2="-9.60" stroke="#231f20" stroke-width="0.75"/>
<line x1="35.50" y1="-18.90" x2="36.70" y2="1.60" stroke="#231f20" stroke-width="0.75"/>
<line x1="44.40" y1="-9.60" x2="36.70" y2="1.60" stroke="#231f20" stroke-width="0.75"/>
<line x1="21.40" y1="-4.90" x2="44.40" y2="-9.60" stroke="#231f20" stroke-width="0.75"/>
<line x1="36.70" y1="1.60" x2="48.30" y2="11.80" stroke="#231f20" stroke-width="0.75"/>
<line x1="36.70" y1="1.60" x2="12.10" y2="14.70" stroke="#231f20" stroke-width="0.75"/>
<line x1="36.70" y1="1.60" x2="28.40" y2="15.50" stroke="#231f20" stroke-width="0.75"/>
<line x1="36.70" y1="1.60" x2="42.20" y2="26.70" stroke="#231f20" stroke-width="0.75"/>
<line x1="3.90" y1="-4.90" x2="-3.90" y2="8.60" stroke="#231f20" stroke-width="0.75"/>
<line x1="16.70" y1="-19.10" x2="12.10" y2="14.70" stroke="#231f20" stroke-width="0.75"/>
<line x1="21.40" y1="-4.90" x2="12.10" y2="14.70" stroke="#231f20" stroke-width="0.75"/>
<line x1="-3.90" y1="8.60" x2="12.10" y2="14.70" stroke="#231f20" stroke-width="0.75"/>
<line x1="-3.90" y1="8.60" x2="0.30" y2="29.30" stroke="#231f20" stroke-width="0.75"/>
<line x1="-3.90" y1="8.60" x2="-21.50" y2="14.70" stroke="#231f20" stroke-width="0.75"/>
<line x1="12.10" y1="14.70" x2="28.40" y2="15.50" stroke="#231f20" stroke-width="0.75"/>
<line x1="12.10" y1="14.70" x2="26.30" y2="31.30" stroke="#231f20" stroke-width="0.75"/>
<line x1="12.10" y1="14.70" x2="12.20" y2="40.50" stroke="#231f20" stroke-width="0.75"/>
<line x1="28.40" y1="15.50" x2="42.20" y2="26.70" stroke="#231f20" stroke-width="0.75"/>
<line x1="28.40" y1="15.50" x2="26.30" y2="31.30" stroke="#231f20" stroke-width="0.75"/>
<line x1="28.40" y1="15.50" x2="12.20" y2="40.50" stroke="#231f20" stroke-width="0.75"/>
<line x1="26.30" y1="31.30" x2="42.20" y2="26.70" stroke="#231f20" stroke-width="0.75"/>
<line x1="0.30" y1="29.30" x2="26.30" y2="31.30" stroke="#231f20" stroke-width="0.75"/>
<line x1="0.30" y1="29.30" x2="-1.70" y2="48.20" stroke="#231f20" stroke-width="0.75"/>
<line x1="-1.70" y1="48.20" x2="12.20" y2="40.50" stroke="#231f20" stroke-width="0.75"/>
<line x1="-12.50" y1="35.40" x2="-27.20" y2="42.10" stroke="#231f20" stroke-width="0.75"/>
<line x1="-27.20" y1="42.10" x2="12.20" y2="40.50" stroke="#231f20" stroke-width="0.75"/>
<line x1="-10.10" y1="-42.90" x2="1.60" y2="-50.90" stroke="#231f20" stroke-width="1.1"/>
<line x1="-10.10" y1="-42.90" x2="-21.90" y2="-24.00" stroke="#231f20" stroke-width="2.1"/>
<line x1="-10.10" y1="-42.90" x2="-46.20" y2="-19.80" stroke="#231f20" stroke-width="2.1"/>
<line x1="-10.10" y1="-42.90" x2="-1.80" y2="-23.30" stroke="#231f20" stroke-width="2.1"/>
<line x1="-33.00" y1="-35.70" x2="-21.90" y2="-24.00" stroke="#231f20" stroke-width="2.1"/>
<line x1="-21.90" y1="-24.00" x2="-1.80" y2="-23.30" stroke="#231f20" stroke-width="2.1"/>
<line x1="-21.90" y1="-24.00" x2="-17.90" y2="-5.70" stroke="#231f20" stroke-width="2.1"/>
<line x1="-21.90" y1="-24.00" x2="3.90" y2="-4.90" stroke="#231f20" stroke-width="2.1"/>
<line x1="-1.80" y1="-23.30" x2="-17.90" y2="-5.70" stroke="#231f20" stroke-width="2.1"/>
<line x1="-1.80" y1="-23.30" x2="3.90" y2="-4.90" stroke="#231f20" stroke-width="2.1"/>
<line x1="-1.80" y1="-23.30" x2="16.70" y2="-19.10" stroke="#231f20" stroke-width="2.1"/>
<line x1="16.70" y1="-19.10" x2="21.40" y2="-4.90" stroke="#231f20" stroke-width="2.1"/>
<line x1="-46.20" y1="-19.80" x2="-17.90" y2="-5.70" stroke="#231f20" stroke-width="2.1"/>
<line x1="-46.20" y1="-19.80" x2="-46.00" y2="-4.80" stroke="#231f20" stroke-width="2.1"/>
<line x1="-46.00" y1="-4.80" x2="-17.90" y2="-5.70" stroke="#231f20" stroke-width="2.1"/>
<line x1="-46.00" y1="-4.80" x2="-36.50" y2="8.70" stroke="#231f20" stroke-width="2.1"/>
<line x1="-46.00" y1="-4.80" x2="-36.60" y2="25.90" stroke="#231f20" stroke-width="2.1"/>
<line x1="-36.50" y1="8.70" x2="-17.90" y2="-5.70" stroke="#231f20" stroke-width="2.1"/>
<line x1="-36.50" y1="8.70" x2="-21.50" y2="14.70" stroke="#231f20" stroke-width="2.1"/>
<line x1="-36.50" y1="8.70" x2="-36.60" y2="25.90" stroke="#231f20" stroke-width="2.1"/>
<line x1="-21.50" y1="14.70" x2="-36.60" y2="25.90" stroke="#231f20" stroke-width="2.1"/>
<line x1="-21.50" y1="14.70" x2="-12.50" y2="35.40" stroke="#231f20" stroke-width="2.1"/>
<line x1="-17.90" y1="-5.70" x2="-12.50" y2="35.40" stroke="#231f20" stroke-width="2.1"/>
<line x1="-36.60" y1="25.90" x2="-12.50" y2="35.40" stroke="#231f20" stroke-width="2.1"/>
<line x1="-12.50" y1="35.40" x2="0.30" y2="29.30" stroke="#231f20" stroke-width="2.1"/>
<line x1="-12.50" y1="35.40" x2="12.20" y2="40.50" stroke="#231f20" stroke-width="2.1"/>
<circle cx="-10.10" cy="-42.90" r="4.4" fill="#e3272b" stroke="#231f20" stroke-width="0.8"/>
<circle cx="-33.00" cy="-35.70" r="4.4" fill="#e3272b" stroke="#231f20" stroke-width="0.8"/>
<circle cx="-21.90" cy="-24.00" r="4.4" fill="#e3272b" stroke="#231f20" stroke-width="0.8"/>
<circle cx="-46.20" cy="-19.80" r="4.4" fill="#e3272b" stroke="#231f20" stroke-width="0.8"/>
<circle cx="-1.80" cy="-23.30" r="4.4" fill="#e3272b" stroke="#231f20" stroke-width="0.8"/>
<circle cx="16.70" cy="-19.10" r="4.4" fill="#e3272b" stroke="#231f20" stroke-width="0.8"/>
<circle cx="-17.90" cy="-5.70" r="4.4" fill="#e3272b" stroke="#231f20" stroke-width="0.8"/>
<circle cx="3.90" cy="-4.90" r="4.4" fill="#e3272b" stroke="#231f20" stroke-width="0.8"/>
<circle cx="21.40" cy="-4.90" r="4.4" fill="#e3272b" stroke="#231f20" stroke-width="0.8"/>
<circle cx="1.60" cy="-50.90" r="4.75" fill="#1b1a1a"/>
<circle cx="8.10" cy="-35.90" r="4.75" fill="#1b1a1a"/>
<circle cx="26.70" cy="-36.70" r="4.75" fill="#1b1a1a"/>
<circle cx="35.50" cy="-18.90" r="4.75" fill="#1b1a1a"/>
<circle cx="44.40" cy="-9.60" r="4.75" fill="#1b1a1a"/>
<circle cx="36.70" cy="1.60" r="4.75" fill="#1b1a1a"/>
<circle cx="48.30" cy="11.80" r="4.75" fill="#1b1a1a"/>
<circle cx="-46.00" cy="-4.80" r="4.4" fill="#e3272b" stroke="#231f20" stroke-width="0.8"/>
<circle cx="-36.50" cy="8.70" r="4.4" fill="#e3272b" stroke="#231f20" stroke-width="0.8"/>
<circle cx="-21.50" cy="14.70" r="4.4" fill="#e3272b" stroke="#231f20" stroke-width="0.8"/>
<circle cx="-36.60" cy="25.90" r="4.4" fill="#e3272b" stroke="#231f20" stroke-width="0.8"/>
<circle cx="-12.50" cy="35.40" r="4.4" fill="#e3272b" stroke="#231f20" stroke-width="0.8"/>
<circle cx="0.30" cy="29.30" r="4.4" fill="#e3272b" stroke="#231f20" stroke-width="0.8"/>
<circle cx="12.20" cy="40.50" r="4.4" fill="#e3272b" stroke="#231f20" stroke-width="0.8"/>
<circle cx="-27.20" cy="42.10" r="4.75" fill="#1b1a1a"/>
<circle cx="-1.70" cy="48.20" r="4.75" fill="#1b1a1a"/>
<circle cx="-3.90" cy="8.60" r="4.75" fill="#1b1a1a"/>
<circle cx="12.10" cy="14.70" r="4.75" fill="#1b1a1a"/>
<circle cx="28.40" cy="15.50" r="4.75" fill="#1b1a1a"/>
<circle cx="26.30" cy="31.30" r="4.75" fill="#1b1a1a"/>
<circle cx="42.20" cy="26.70" r="4.75" fill="#1b1a1a"/>
</g>
<g transform="translate(625.4,226.0)">
<path d="M-52.56,-17.54 L-52.55,-17.39 L-52.52,-17.25 L-52.48,-17.11 L-52.43,-16.97 L-52.36,-16.83 L-52.28,-16.71 L-51.23,-15.20 L-51.13,-15.08 L-51.02,-14.96 L-50.91,-14.86 L-50.78,-14.77 L-48.59,-13.41 L-44.21,-10.62 L-44.16,-10.59 L-40.63,-8.53 L-40.48,-8.45 L-36.99,-6.90 L-31.43,-2.11 L-31.30,-2.00 L-31.15,-1.92 L-31.00,-1.85 L-30.84,-1.79 L-25.95,-0.38 L-25.81,-0.35 L-18.62,1.03 L-18.47,1.05 L-9.89,1.84 L-9.74,1.85 L23.23,1.65 L23.40,1.64 L23.57,1.61 L23.74,1.56 L23.89,1.50 L25.71,0.63 L25.84,0.56 L25.97,0.47 L26.08,0.38 L26.19,0.27 L26.28,0.15 L26.37,0.03 L26.44,-0.10 L26.50,-0.24 L27.46,-2.88 L27.50,-3.01 L27.53,-3.14 L27.54,-3.28 L27.55,-3.42 L27.45,-17.15 L27.44,-17.29 L27.06,-21.10 L27.03,-21.27 L26.99,-21.45 L26.01,-24.29 L25.95,-24.43 L25.88,-24.56 L25.80,-24.69 L25.71,-24.81 L24.07,-26.69 L23.96,-26.81 L23.84,-26.91 L23.71,-27.00 L23.57,-27.07 L23.42,-27.14 L20.81,-28.06 L20.64,-28.11 L20.47,-28.14 L20.29,-28.15 L2.53,-28.15 L2.53,-28.15 L2.52,-28.15 L0.63,-28.44 L-1.70,-29.92 L-2.65,-33.25 L-2.85,-43.51 L-2.86,-43.68 L-2.89,-43.84 L-2.94,-44.00 L-4.37,-48.04 L-4.43,-48.18 L-4.50,-48.31 L-4.58,-48.43 L-4.68,-48.55 L-4.78,-48.66 L-6.89,-50.61 L-7.01,-50.71 L-7.14,-50.79 L-7.27,-50.87 L-7.41,-50.93 L-7.56,-50.97 L-7.71,-51.00 L-11.17,-51.52 L-11.32,-51.54 L-11.47,-51.54 L-11.62,-51.52 L-16.15,-50.87 L-16.32,-50.84 L-16.48,-50.79 L-16.64,-50.72 L-21.00,-48.49 L-21.13,-48.42 L-21.26,-48.33 L-21.37,-48.23 L-23.71,-45.99 L-26.63,-44.43 L-32.95,-42.87 L-33.12,-42.82 L-33.28,-42.75 L-40.54,-39.07 L-40.69,-38.99 L-40.82,-38.89 L-46.10,-34.57 L-46.20,-34.48 L-46.29,-34.38 L-46.37,-34.28 L-50.19,-29.03 L-50.27,-28.92 L-50.33,-28.81 L-50.38,-28.69 L-52.63,-23.07 L-52.68,-22.91 L-52.72,-22.76 L-52.74,-22.60 L-52.74,-22.43Z" fill="#f8bd28"/>
<path d="M-52.52,-18.49 L-52.67,-18.45 L-52.81,-18.39 L-52.95,-18.31 L-53.07,-18.22 L-53.19,-18.12 L-53.30,-18.01 L-53.39,-17.89 L-53.47,-17.76 L-53.54,-17.63 L-53.60,-17.48 L-53.64,-17.34 L-53.67,-17.18 L-53.68,-17.03 L-53.67,-16.88 L-53.35,-12.68 L-52.75,-4.02 L-52.74,-3.90 L-51.77,2.72 L-51.73,2.89 L-51.68,3.04 L-48.85,10.57 L-48.79,10.70 L-45.03,18.42 L-45.03,18.42 L-45.03,18.43 L-43.14,25.17 L-43.13,25.23 L-41.80,29.40 L-41.75,29.53 L-41.69,29.66 L-41.62,29.78 L-41.54,29.89 L-39.94,31.91 L-39.83,32.04 L-39.70,32.15 L-39.57,32.25 L-39.43,32.33 L-35.44,34.37 L-35.29,34.43 L-35.14,34.48 L-34.99,34.52 L-34.83,34.54 L-34.67,34.54 L-27.07,34.25 L-21.49,36.90 L-16.89,40.82 L-16.78,40.91 L-16.67,40.99 L-16.54,41.05 L-16.41,41.10 L-9.53,43.59 L-9.39,43.63 L-9.24,43.66 L-2.99,44.64 L-2.98,44.64 L-2.98,44.64 L3.29,46.80 L3.41,46.84 L3.54,46.86 L10.35,48.03 L10.47,48.05 L10.58,48.05 L15.86,48.15 L16.03,48.14 L16.20,48.12 L19.03,47.55 L19.17,47.52 L19.31,47.47 L19.45,47.40 L19.57,47.33 L19.69,47.24 L19.80,47.14 L19.91,47.03 L20.00,46.91 L20.08,46.79 L21.03,45.08 L21.10,44.95 L21.15,44.81 L21.19,44.67 L21.22,44.52 L21.23,44.37 L21.22,44.22 L20.96,40.48 L20.94,40.31 L20.90,40.14 L20.84,39.98 L19.18,36.09 L19.10,35.93 L19.00,35.78 L16.55,32.48 L16.46,32.37 L16.36,32.27 L13.52,29.62 L13.41,29.53 L13.30,29.45 L8.70,26.48 L8.55,26.39 L8.40,26.33 L2.21,24.01 L2.10,23.97 L1.98,23.94 L-2.78,22.97 L-2.83,22.95 L-7.49,21.40 L-10.08,18.14 L-10.75,15.76 L-10.05,6.35 L-10.05,6.29 L-9.65,-3.63 L-9.65,-3.78 L-10.00,-9.44 L-10.02,-9.59 L-10.05,-9.74 L-10.09,-9.88 L-10.15,-10.01 L-10.22,-10.15 L-10.31,-10.27 L-10.40,-10.39 L-10.51,-10.49 L-10.62,-10.59 L-10.74,-10.67 L-10.88,-10.74 L-11.01,-10.80 L-14.74,-12.18 L-14.92,-12.23 L-15.10,-12.26 L-21.93,-13.04 L-21.96,-13.05 L-29.39,-14.44 L-36.82,-18.00 L-36.82,-18.00 L-36.82,-18.00 L-41.27,-21.21 L-41.40,-21.29 L-41.54,-21.36 L-41.68,-21.42 L-41.83,-21.46 L-41.98,-21.49 L-42.13,-21.50 L-42.28,-21.50 L-42.43,-21.48 L-42.58,-21.45 L-42.72,-21.40 L-46.08,-20.14 L-46.13,-20.13 L-50.08,-19.14 L-50.10,-19.14Z" fill="#37c0b7"/>
<path d="M-52.55,-17.39 L-52.52,-17.25 L-52.48,-17.11 L-52.43,-16.97 L-52.36,-16.83 L-52.28,-16.71 L-51.23,-15.20 L-51.13,-15.08 L-51.02,-14.96 L-50.91,-14.86 L-50.78,-14.77 L-48.59,-13.41 L-44.21,-10.62 L-44.16,-10.59 L-40.63,-8.53 L-40.48,-8.45 L-36.99,-6.90 L-31.43,-2.11 L-31.30,-2.00 L-31.15,-1.92 L-31.00,-1.85 L-30.84,-1.79 L-25.95,-0.38 L-25.81,-0.35 L-18.62,1.03 L-18.47,1.05 L-9.89,1.84 L-9.87,1.84 L-9.65,-3.63 L-9.65,-3.78 L-10.00,-9.44 L-10.02,-9.59 L-10.05,-9.74 L-10.09,-9.88 L-10.15,-10.01 L-10.22,-10.15 L-10.31,-10.27 L-10.40,-10.39 L-10.51,-10.49 L-10.62,-10.59 L-10.74,-10.67 L-10.88,-10.74 L-11.01,-10.80 L-14.74,-12.18 L-14.92,-12.23 L-15.10,-12.26 L-21.93,-13.04 L-21.96,-13.05 L-29.39,-14.44 L-36.82,-18.00 L-36.82,-18.00 L-36.82,-18.00 L-41.27,-21.21 L-41.40,-21.29 L-41.54,-21.36 L-41.68,-21.42 L-41.83,-21.46 L-41.98,-21.49 L-42.13,-21.50 L-42.28,-21.50 L-42.43,-21.48 L-42.58,-21.45 L-42.72,-21.40 L-46.08,-20.14 L-46.13,-20.13 L-50.08,-19.14 L-50.10,-19.14 L-52.52,-18.49 L-52.60,-18.47 L-52.56,-17.54Z" fill="#4a8b35"/>
<circle cx="0" cy="0.5" r="57.6" fill="none" stroke="#231f20" stroke-width="1.3"/>
<line x1="1.60" y1="-50.90" x2="8.10" y2="-35.90" stroke="#231f20" stroke-width="0.75"/>
<line x1="1.60" y1="-50.90" x2="26.70" y2="-36.70" stroke="#231f20" stroke-width="0.75"/>
<line x1="-33.00" y1="-35.70" x2="8.10" y2="-35.90" stroke="#231f20" stroke-width="0.75"/>
<line x1="8.10" y1="-35.90" x2="16.70" y2="-19.10" stroke="#231f20" stroke-width="0.75"/>
<line x1="26.70" y1="-36.70" x2="35.50" y2="-18.90" stroke="#231f20" stroke-width="0.75"/>
<line x1="16.70" y1="-19.10" x2="35.50" y2="-18.90" stroke="#231f20" stroke-width="0.75"/>
<line x1="35.50" y1="-18.90" x2="44.40" y2="-9.60" stroke="#231f20" stroke-width="0.75"/>
<line x1="35.50" y1="-18.90" x2="36.70" y2="1.60" stroke="#231f20" stroke-width="0.75"/>
<line x1="44.40" y1="-9.60" x2="36.70" y2="1.60" stroke="#231f20" stroke-width="0.75"/>
<line x1="21.40" y1="-4.90" x2="44.40" y2="-9.60" stroke="#231f20" stroke-width="0.75"/>
<line x1="36.70" y1="1.60" x2="48.30" y2="11.80" stroke="#231f20" stroke-width="0.75"/>
<line x1="36.70" y1="1.60" x2="12.10" y2="14.70" stroke="#231f20" stroke-width="0.75"/>
<line x1="36.70" y1="1.60" x2="28.40" y2="15.50" stroke="#231f20" stroke-width="0.75"/>
<line x1="36.70" y1="1.60" x2="42.20" y2="26.70" stroke="#231f20" stroke-width="0.75"/>
<line x1="3.90" y1="-4.90" x2="-3.90" y2="8.60" stroke="#231f20" stroke-width="0.75"/>
<line x1="16.70" y1="-19.10" x2="12.10" y2="14.70" stroke="#231f20" stroke-width="0.75"/>
<line x1="21.40" y1="-4.90" x2="12.10" y2="14.70" stroke="#231f20" stroke-width="0.75"/>
<line x1="-3.90" y1="8.60" x2="12.10" y2="14.70" stroke="#231f20" stroke-width="0.75"/>
<line x1="-3.90" y1="8.60" x2="0.30" y2="29.30" stroke="#231f20" stroke-width="0.75"/>
<line x1="-3.90" y1="8.60" x2="-21.50" y2="14.70" stroke="#231f20" stroke-width="0.75"/>
<line x1="12.10" y1="14.70" x2="28.40" y2="15.50" stroke="#231f20" stroke-width="0.75"/>
<line x1="12.10" y1="14.70" x2="26.30" y2="31.30" stroke="#231f20" stroke-width="0.75"/>
<line x1="12.10" y1="14.70" x2="12.20" y2="40.50" stroke="#231f20" stroke-width="0.75"/>
<line x1="28.40" y1="15.50" x2="42.20" y2="26.70" stroke="#231f20" stroke-width="0.75"/>
<line x1="28.40" y1="15.50" x2="26.30" y2="31.30" stroke="#231f20" stroke-width="0.75"/>
<line x1="28.40" y1="15.50" x2="12.20" y2="40.50" stroke="#231f20" stroke-width="0.75"/>
<line x1="26.30" y1="31.30" x2="42.20" y2="26.70" stroke="#231f20" stroke-width="0.75"/>
<line x1="0.30" y1="29.30" x2="26.30" y2="31.30" stroke="#231f20" stroke-width="0.75"/>
<line x1="0.30" y1="29.30" x2="-1.70" y2="48.20" stroke="#231f20" stroke-width="0.75"/>
<line x1="-1.70" y1="48.20" x2="12.20" y2="40.50" stroke="#231f20" stroke-width="0.75"/>
<line x1="-12.50" y1="35.40" x2="-27.20" y2="42.10" stroke="#231f20" stroke-width="0.75"/>
<line x1="-27.20" y1="42.10" x2="12.20" y2="40.50" stroke="#231f20" stroke-width="0.75"/>
<line x1="-10.10" y1="-42.90" x2="1.60" y2="-50.90" stroke="#231f20" stroke-width="1.1"/>
<line x1="-10.10" y1="-42.90" x2="-21.90" y2="-24.00" stroke="#231f20" stroke-width="2.1"/>
<line x1="-10.10" y1="-42.90" x2="-46.20" y2="-19.80" stroke="#231f20" stroke-width="2.1"/>
<line x1="-10.10" y1="-42.90" x2="-1.80" y2="-23.30" stroke="#231f20" stroke-width="2.1"/>
<line x1="-33.00" y1="-35.70" x2="-21.90" y2="-24.00" stroke="#231f20" stroke-width="2.1"/>
<line x1="-21.90" y1="-24.00" x2="-1.80" y2="-23.30" stroke="#231f20" stroke-width="2.1"/>
<line x1="-21.90" y1="-24.00" x2="-17.90" y2="-5.70" stroke="#231f20" stroke-width="2.1"/>
<line x1="-21.90" y1="-24.00" x2="3.90" y2="-4.90" stroke="#231f20" stroke-width="2.1"/>
<line x1="-1.80" y1="-23.30" x2="-17.90" y2="-5.70" stroke="#231f20" stroke-width="2.1"/>
<line x1="-1.80" y1="-23.30" x2="3.90" y2="-4.90" stroke="#231f20" stroke-width="2.1"/>
<line x1="-1.80" y1="-23.30" x2="16.70" y2="-19.10" stroke="#231f20" stroke-width="2.1"/>
<line x1="16.70" y1="-19.10" x2="21.40" y2="-4.90" stroke="#231f20" stroke-width="2.1"/>
<line x1="-46.20" y1="-19.80" x2="-17.90" y2="-5.70" stroke="#231f20" stroke-width="2.1"/>
<line x1="-46.20" y1="-19.80" x2="-46.00" y2="-4.80" stroke="#231f20" stroke-width="2.1"/>
<line x1="-46.00" y1="-4.80" x2="-17.90" y2="-5.70" stroke="#231f20" stroke-width="2.1"/>
<line x1="-46.00" y1="-4.80" x2="-36.50" y2="8.70" stroke="#231f20" stroke-width="2.1"/>
<line x1="-46.00" y1="-4.80" x2="-36.60" y2="25.90" stroke="#231f20" stroke-width="2.1"/>
<line x1="-36.50" y1="8.70" x2="-17.90" y2="-5.70" stroke="#231f20" stroke-width="2.1"/>
<line x1="-36.50" y1="8.70" x2="-21.50" y2="14.70" stroke="#231f20" stroke-width="2.1"/>
<line x1="-36.50" y1="8.70" x2="-36.60" y2="25.90" stroke="#231f20" stroke-width="2.1"/>
<line x1="-21.50" y1="14.70" x2="-36.60" y2="25.90" stroke="#231f20" stroke-width="2.1"/>
<line x1="-21.50" y1="14.70" x2="-12.50" y2="35.40" stroke="#231f20" stroke-width="2.1"/>
<line x1="-17.90" y1="-5.70" x2="-12.50" y2="35.40" stroke="#231f20" stroke-width="2.1"/>
<line x1="-36.60" y1="25.90" x2="-12.50" y2="35.40" stroke="#231f20" stroke-width="2.1"/>
<line x1="-12.50" y1="35.40" x2="0.30" y2="29.30" stroke="#231f20" stroke-width="2.1"/>
<line x1="-12.50" y1="35.40" x2="12.20" y2="40.50" stroke="#231f20" stroke-width="2.1"/>
<circle cx="-10.10" cy="-42.90" r="4.4" fill="#e3272b" stroke="#231f20" stroke-width="0.8"/>
<circle cx="-33.00" cy="-35.70" r="4.4" fill="#e3272b" stroke="#231f20" stroke-width="0.8"/>
<circle cx="-21.90" cy="-24.00" r="4.4" fill="#e3272b" stroke="#231f20" stroke-width="0.8"/>
<circle cx="-46.20" cy="-19.80" r="4.4" fill="#e3272b" stroke="#231f20" stroke-width="0.8"/>
<circle cx="-1.80" cy="-23.30" r="4.4" fill="#e3272b" stroke="#231f20" stroke-width="0.8"/>
<circle cx="16.70" cy="-19.10" r="4.4" fill="#e3272b" stroke="#231f20" stroke-width="0.8"/>
<circle cx="-17.90" cy="-5.70" r="4.4" fill="#e3272b" stroke="#231f20" stroke-width="0.8"/>
<circle cx="3.90" cy="-4.90" r="4.4" fill="#e3272b" stroke="#231f20" stroke-width="0.8"/>
<circle cx="21.40" cy="-4.90" r="4.4" fill="#e3272b" stroke="#231f20" stroke-width="0.8"/>
<circle cx="1.60" cy="-50.90" r="4.75" fill="#1b1a1a"/>
<circle cx="8.10" cy="-35.90" r="4.75" fill="#1b1a1a"/>
<circle cx="26.70" cy="-36.70" r="4.75" fill="#1b1a1a"/>
<circle cx="35.50" cy="-18.90" r="4.75" fill="#1b1a1a"/>
<circle cx="44.40" cy="-9.60" r="4.75" fill="#1b1a1a"/>
<circle cx="36.70" cy="1.60" r="4.75" fill="#1b1a1a"/>
<circle cx="48.30" cy="11.80" r="4.75" fill="#1b1a1a"/>
<circle cx="-46.00" cy="-4.80" r="4.75" fill="#1b1a1a"/>
<circle cx="-36.50" cy="8.70" r="4.75" fill="#1b1a1a"/>
<circle cx="-21.50" cy="14.70" r="4.75" fill="#1b1a1a"/>
<circle cx="-36.60" cy="25.90" r="4.75" fill="#1b1a1a"/>
<circle cx="-12.50" cy="35.40" r="4.75" fill="#1b1a1a"/>
<circle cx="0.30" cy="29.30" r="4.75" fill="#1b1a1a"/>
<circle cx="12.20" cy="40.50" r="4.75" fill="#1b1a1a"/>
<circle cx="-27.20" cy="42.10" r="4.75" fill="#1b1a1a"/>
<circle cx="-1.70" cy="48.20" r="4.75" fill="#1b1a1a"/>
<circle cx="-3.90" cy="8.60" r="4.75" fill="#1b1a1a"/>
<circle cx="12.10" cy="14.70" r="4.75" fill="#1b1a1a"/>
<circle cx="28.40" cy="15.50" r="4.75" fill="#1b1a1a"/>
<circle cx="26.30" cy="31.30" r="4.75" fill="#1b1a1a"/>
<circle cx="42.20" cy="26.70" r="4.75" fill="#1b1a1a"/>
</g>
<text x="0.9" y="87.6" font-size="14.3" font-weight="bold" fill="#161616"><tspan textLength="28.8" lengthAdjust="spacingAndGlyphs">c &lt; c</tspan><tspan font-size="9.6" font-weight="normal" stroke="#161616" stroke-width="0.25" dy="1.2" textLength="15.6" lengthAdjust="spacingAndGlyphs">max</tspan></text>
<text x="63.8" y="230.0" font-size="14.3" font-weight="bold" fill="#161616"><tspan textLength="28.8" lengthAdjust="spacingAndGlyphs">c &gt; c</tspan><tspan font-size="9.6" font-weight="normal" stroke="#161616" stroke-width="0.25" dy="1.4" textLength="15.4" lengthAdjust="spacingAndGlyphs">max</tspan></text>
<text x="172.8" y="88.6" font-size="15" font-weight="bold" textLength="12.8" lengthAdjust="spacingAndGlyphs" fill="#161616">or</text>
<text x="310.9" y="88.6" font-size="15" font-weight="bold" textLength="12.8" lengthAdjust="spacingAndGlyphs" fill="#161616">or</text>
<text x="166.9" y="164.5" font-size="14.5" font-weight="bold" textLength="25.5" lengthAdjust="spacingAndGlyphs" fill="#161616">t = 1</text>
<text x="317.0" y="164.5" font-size="14.5" font-weight="bold" textLength="28.0" lengthAdjust="spacingAndGlyphs" fill="#161616">t = 2</text>
<line x1="238.7" y1="226.2" x2="256" y2="226.2" stroke="#161616" stroke-width="1.8"/>
<polygon points="254.4,221.4 263,226.2 254.4,231" fill="#161616"/>
<text x="516.80" y="81.6" font-size="12.8" font-weight="bold" fill="#161616" textLength="12.5" lengthAdjust="spacingAndGlyphs">m</text>
<text x="529.50" y="78.30" font-size="8.6" font-weight="bold" fill="#161616">1</text>
<text x="537.70" y="81.6" font-size="13" font-weight="bold" fill="#161616" textLength="16.50" lengthAdjust="spacingAndGlyphs">&lt; 1</text>
<text x="516.80" y="98.7" font-size="12.8" font-weight="bold" fill="#161616" textLength="12.5" lengthAdjust="spacingAndGlyphs">m</text>
<text x="529.50" y="95.20" font-size="8.6" font-weight="bold" fill="#161616">2</text>
<text x="537.70" y="98.7" font-size="13" font-weight="bold" fill="#161616" textLength="18.70" lengthAdjust="spacingAndGlyphs">= 0</text>
<text x="516.60" y="223.9" font-size="12.8" font-weight="bold" fill="#161616" textLength="12.5" lengthAdjust="spacingAndGlyphs">m</text>
<text x="529.40" y="220.30" font-size="8.6" font-weight="bold" fill="#161616">1</text>
<text x="537.30" y="223.9" font-size="13" font-weight="bold" fill="#161616" textLength="17.70" lengthAdjust="spacingAndGlyphs">= 1</text>
<text x="510.40" y="240.7" font-size="12.8" font-weight="bold" fill="#161616" textLength="12.5" lengthAdjust="spacingAndGlyphs">m</text>
<text x="522.10" y="237.10" font-size="8.6" font-weight="bold" fill="#161616">2</text>
<text x="530.80" y="240.7" font-size="13" font-weight="bold" fill="#161616" textLength="24.20" lengthAdjust="spacingAndGlyphs">&lt;&lt; 1</text>
<rect x="66.7" y="351.0" width="50.90" height="92.60" fill="#e8e8e8"/>
<rect x="143.5" y="351.0" width="51.80" height="92.60" fill="#e8e8e8"/>
<line x1="66.7" y1="351.6" x2="66.7" y2="443.6" stroke="#1e1e1e" stroke-width="1.5" stroke-dasharray="4,3.1" stroke-dashoffset="2.1"/>
<line x1="117.6" y1="351.6" x2="117.6" y2="443.6" stroke="#1e1e1e" stroke-width="1.5" stroke-dasharray="4,3.1" stroke-dashoffset="2.1"/>
<line x1="143.5" y1="351.6" x2="143.5" y2="443.6" stroke="#1e1e1e" stroke-width="1.5" stroke-dasharray="4,3.1" stroke-dashoffset="2.1"/>
<line x1="195.3" y1="351.6" x2="195.3" y2="443.6" stroke="#1e1e1e" stroke-width="1.5" stroke-dasharray="4,3.1" stroke-dashoffset="2.1"/>
<path d="M66.80,435.90 L68.03,428.49 L69.26,419.72 L70.49,412.01 L71.72,405.23 L72.95,399.26 L74.18,394.01 L75.41,389.39 L76.64,385.33 L77.87,381.75 L79.10,378.61 L80.33,375.84 L81.56,373.41 L82.79,371.26 L84.02,369.38 L85.25,367.72 L86.48,366.27 L87.71,364.98 L88.94,363.85 L90.17,362.86 L91.40,361.99 L92.63,361.22 L93.86,360.54 L95.09,359.95 L96.32,359.43 L97.55,358.97 L98.78,358.56 L100.01,358.21 L101.24,357.89 L102.47,357.62 L103.70,357.37 L104.93,357.16 L106.16,356.97 L107.39,356.81 L108.62,356.66 L109.85,356.53 L111.08,356.42 L112.31,356.32 L113.54,356.24 L114.77,356.16 L116.00,356.09 L117.23,356.03 L118.46,355.98 L119.69,355.94 L120.92,355.90 L122.15,355.86 L123.38,355.83 L124.61,355.80 L125.84,355.78 L127.07,355.76 L128.30,355.74 L129.53,355.72 L130.76,355.71 L131.99,355.69 L133.22,355.68 L134.45,355.67 L135.68,355.66 L136.91,355.66 L138.14,355.65 L139.37,355.64 L140.60,355.64 L141.83,355.63 L143.06,355.63 L144.29,355.63 L145.52,355.62 L146.75,355.62 L147.98,355.62 L149.21,355.62 L150.44,355.61 L151.67,355.61 L152.90,355.61 L154.13,355.61 L155.36,355.61 L156.59,355.61 L157.82,355.61 L159.05,355.61 L160.28,355.60 L161.51,355.60 L162.74,355.60 L163.97,355.60 L165.20,355.60 L166.43,355.60 L167.66,355.60 L168.89,355.60 L170.12,355.60 L171.35,355.60 L172.58,355.60 L173.81,355.60 L175.04,355.60 L176.27,355.60 L177.50,355.60 L178.73,355.60 L179.96,355.60 L181.19,355.60 L182.42,355.60 L183.65,355.60 L184.88,355.60 L186.11,355.60 L187.34,355.60 L188.57,355.60 L189.80,355.60 L191.03,355.60 L192.26,355.60 L193.49,355.60 L194.72,355.60 L195.95,355.60 L197.18,355.60 L198.41,355.60 L199.64,355.60 L200.87,355.60 L202.10,355.60 L203.33,355.60 L204.56,355.60 L205.79,355.60 L207.02,355.60 L208.25,355.60 L209.48,355.60 L210.71,355.60 L211.94,355.60 L213.17,355.60 L214.40,355.60" fill="none" stroke="#33bfb6" stroke-width="2.0" stroke-linejoin="round"/>
<path d="M62.2,435.9 L214.4,435.9" fill="none" stroke="#f6b822" stroke-width="2.0" stroke-linejoin="round"/>
<path d="M66.80,435.90 L68.03,428.49 L69.26,419.72 L70.49,412.01 L71.72,405.23 L72.95,399.26 L74.18,394.01 L75.41,389.39 L76.64,385.33 L77.87,381.75 L79.10,378.61 L80.33,375.84 L81.56,373.41 L82.79,371.26 L84.02,369.38 L85.25,367.72 L86.48,366.27 L87.71,364.98 L88.94,363.85 L90.17,362.86 L91.40,361.99 L92.63,361.22 L93.86,360.54 L95.09,359.95 L96.32,359.43 L97.55,358.97 L98.78,358.56 L100.01,358.21 L101.24,357.89 L102.47,357.62 L103.70,357.37 L104.93,357.16 L106.16,356.97 L107.39,356.81 L108.62,356.66 L109.85,356.53 L111.08,356.42 L112.31,356.32 L113.54,356.24 L114.77,356.16 L116.00,356.09 L117.23,356.03 L118.46,355.98 L119.69,355.94 L120.92,355.90 L122.15,355.86 L123.38,355.83 L124.61,355.80 L125.84,355.78 L127.07,355.76 L128.30,355.74 L129.53,355.72 L130.76,355.71 L131.99,355.69 L133.22,355.68 L134.45,355.67 L135.68,355.66 L136.91,355.66 L138.14,355.65 L139.37,355.64 L140.60,355.64 L141.83,355.63 L143.06,355.63 L144.29,355.63 L145.52,355.62 L146.75,355.62 L147.98,355.62 L149.21,355.62 L150.44,355.61 L151.67,355.61 L152.90,355.61 L154.13,355.61 L155.36,355.61 L156.59,355.61 L157.82,355.61 L159.05,355.61 L160.28,355.60 L161.51,355.60 L162.74,355.60 L163.97,355.60 L165.20,355.60 L166.43,355.60 L167.66,355.60 L168.89,355.60 L170.12,355.60 L171.35,355.60 L172.58,355.60 L173.81,355.60 L175.04,355.60 L176.27,355.60 L177.50,355.60 L178.73,355.60 L179.96,355.60 L181.19,355.60 L182.42,355.60 L183.65,355.60 L184.88,355.60 L186.11,355.60 L187.34,355.60 L188.57,355.60 L189.80,355.60 L191.03,355.60 L192.26,355.60 L193.49,355.60 L194.72,355.60 L195.95,355.60 L197.18,355.60 L198.41,355.60 L199.64,355.60 L200.87,355.60 L202.10,355.60 L203.33,355.60 L204.56,355.60 L205.79,355.60 L207.02,355.60 L208.25,355.60 L209.48,355.60 L210.71,355.60 L211.94,355.60 L213.17,355.60 L214.40,355.60" fill="none" stroke="#1a72c4" stroke-width="2.0" stroke-dasharray="3.8,3.2" stroke-linejoin="round"/>
<path d="M62.2,435.9 L214.4,435.9" fill="none" stroke="#e2262b" stroke-width="2.0" stroke-dasharray="3.5,3.5" stroke-linejoin="round"/>
<line x1="62.2" y1="351.0" x2="214.4" y2="351.0" stroke="#151515" stroke-width="1.5"/>
<line x1="214.4" y1="351.0" x2="214.4" y2="443.6" stroke="#222" stroke-width="1.3"/>
<line x1="62.2" y1="443.6" x2="214.4" y2="443.6" stroke="#222" stroke-width="1.4"/>
<line x1="62.2" y1="348.1" x2="62.2" y2="446.8" stroke="#1e1e1e" stroke-width="1.6"/>
<line x1="62.20" y1="443.6" x2="62.20" y2="446.40000000000003" stroke="#222" stroke-width="1.3"/>
<line x1="82.33" y1="443.6" x2="82.33" y2="446.40000000000003" stroke="#222" stroke-width="1.3"/>
<line x1="102.46" y1="443.6" x2="102.46" y2="446.40000000000003" stroke="#222" stroke-width="1.3"/>
<line x1="122.59" y1="443.6" x2="122.59" y2="446.40000000000003" stroke="#222" stroke-width="1.3"/>
<line x1="142.72" y1="443.6" x2="142.72" y2="446.40000000000003" stroke="#222" stroke-width="1.3"/>
<line x1="162.85" y1="443.6" x2="162.85" y2="446.40000000000003" stroke="#222" stroke-width="1.3"/>
<line x1="182.98" y1="443.6" x2="182.98" y2="446.40000000000003" stroke="#222" stroke-width="1.3"/>
<line x1="203.11" y1="443.6" x2="203.11" y2="446.40000000000003" stroke="#222" stroke-width="1.3"/>
<text x="62.20" y="458.9" font-size="13.5" text-anchor="middle" fill="#161616">0</text>
<text x="103.06" y="458.9" font-size="13.5" text-anchor="middle" textLength="18.8" lengthAdjust="spacingAndGlyphs" fill="#161616">0.1</text>
<text x="143.32" y="458.9" font-size="13.5" text-anchor="middle" textLength="18.8" lengthAdjust="spacingAndGlyphs" fill="#161616">0.2</text>
<text x="183.58" y="458.9" font-size="13.5" text-anchor="middle" textLength="18.8" lengthAdjust="spacingAndGlyphs" fill="#161616">0.3</text>
<text x="58.6" y="369.00" font-size="14" text-anchor="end" textLength="18.5" lengthAdjust="spacingAndGlyphs" fill="#161616">1.0</text>
<text x="58.6" y="402.40" font-size="14" text-anchor="end" textLength="18.5" lengthAdjust="spacingAndGlyphs" fill="#161616">0.5</text>
<text x="58.6" y="435.80" font-size="14" text-anchor="end" textLength="18.5" lengthAdjust="spacingAndGlyphs" fill="#161616">0.0</text>
<text x="144.0" y="474.2" font-size="14" text-anchor="middle" textLength="51.3" lengthAdjust="spacingAndGlyphs" fill="#161616">Time (s)</text>
<text transform="translate(21.3,398.8) rotate(-90)" font-size="14" text-anchor="middle" fill="#161616" textLength="29.9" lengthAdjust="spacingAndGlyphs">C = γ</text>
<text transform="translate(34.5,398.1) rotate(-90)" font-size="14" text-anchor="middle" fill="#161616" textLength="69.6" lengthAdjust="spacingAndGlyphs">Similarities</text>
<rect x="296.6" y="349.7" width="50.50" height="92.80" fill="#e8e8e8"/>
<rect x="374.3" y="349.7" width="50.80" height="92.80" fill="#e8e8e8"/>
<line x1="296.6" y1="350.3" x2="296.6" y2="442.5" stroke="#1e1e1e" stroke-width="1.5" stroke-dasharray="4,3.1" stroke-dashoffset="2.1"/>
<line x1="347.1" y1="350.3" x2="347.1" y2="442.5" stroke="#1e1e1e" stroke-width="1.5" stroke-dasharray="4,3.1" stroke-dashoffset="2.1"/>
<line x1="374.3" y1="350.3" x2="374.3" y2="442.5" stroke="#1e1e1e" stroke-width="1.5" stroke-dasharray="4,3.1" stroke-dashoffset="2.1"/>
<line x1="425.1" y1="350.3" x2="425.1" y2="442.5" stroke="#1e1e1e" stroke-width="1.5" stroke-dasharray="4,3.1" stroke-dashoffset="2.1"/>
<path d="M292.20,435.30 L296.60,436.00 L297.83,428.16 L299.06,418.93 L300.29,410.87 L301.52,403.81 L302.75,397.63 L303.99,392.23 L305.22,387.51 L306.45,383.37 L307.68,379.76 L308.91,376.59 L310.14,373.83 L311.37,371.41 L312.60,369.29 L313.83,367.44 L315.06,365.82 L316.29,364.40 L317.52,363.16 L318.75,362.08 L319.99,361.13 L321.22,360.30 L322.45,359.57 L323.68,358.94 L324.91,358.38 L326.14,357.90 L327.37,357.47 L328.60,357.10 L329.83,356.77 L331.06,356.49 L332.29,356.24 L333.53,356.02 L334.76,355.83 L335.99,355.66 L337.22,355.52 L338.45,355.39 L339.68,355.28 L340.91,355.18 L342.14,355.10 L343.37,355.02 L344.60,354.96 L345.83,354.90 L347.06,354.85 L348.30,354.81 L349.53,354.77 L350.76,354.73 L351.99,354.70 L353.22,354.68 L354.45,354.66 L355.68,354.64 L356.91,354.62 L358.14,354.60 L359.37,354.59 L360.60,354.58 L361.83,354.57 L363.06,354.56 L364.30,354.55 L365.53,354.55 L366.76,354.54 L367.99,354.54 L369.22,354.53 L370.45,354.53 L371.68,354.52 L372.91,354.52 L374.14,354.52 L375.37,354.52 L376.60,354.51 L377.84,354.51 L379.07,354.51 L380.30,354.51 L381.53,354.51 L382.76,354.51 L383.99,354.51 L385.22,354.51 L386.45,354.50 L387.68,354.50 L388.91,354.50 L390.14,354.50 L391.37,354.50 L392.61,354.50 L393.84,354.50 L395.07,354.50 L396.30,354.50 L397.53,354.50 L398.76,354.50 L399.99,354.50 L401.22,354.50 L402.45,354.50 L403.68,354.50 L404.91,354.50 L406.14,354.50 L407.38,354.50 L408.61,354.50 L409.84,354.50 L411.07,354.50 L412.30,354.50 L413.53,354.50 L414.76,354.50 L415.99,354.50 L417.22,354.50 L418.45,354.50 L419.68,354.50 L420.91,354.50 L422.14,354.50 L423.38,354.50 L424.61,354.50 L425.84,354.50 L427.07,354.50 L428.30,354.50 L429.53,354.50 L430.76,354.50 L431.99,354.50 L433.22,354.50 L434.45,354.50 L435.68,354.50 L436.92,354.50 L438.15,354.50 L439.38,354.50 L440.61,354.50 L441.84,354.50 L443.07,354.50 L444.30,354.50" fill="none" stroke="#33bfb6" stroke-width="2.0" stroke-linejoin="round"/>
<path d="M292.20,435.20 L296.60,436.00 L297.89,435.41 L299.18,433.29 L300.48,431.56 L301.77,430.16 L303.06,429.02 L304.35,428.09 L305.64,427.32 L306.93,426.70 L308.23,426.18 L309.52,425.76 L310.81,425.40 L312.10,425.10 L313.39,424.85 L314.68,424.64 L315.98,424.45 L317.27,424.29 L318.56,424.15 L319.85,424.03 L321.14,423.92 L322.43,423.82 L323.73,423.72 L325.02,423.64 L326.31,423.56 L327.60,423.48 L328.89,423.41 L330.18,423.34 L331.48,423.27 L332.77,423.20 L334.06,423.14 L335.35,423.08 L336.64,423.01 L337.93,422.95 L339.23,422.89 L340.52,422.83 L341.81,422.77 L343.10,422.71 L344.39,422.65 L345.68,422.59 L346.98,422.54 L348.27,422.48 L349.56,422.42 L350.85,422.36 L352.14,422.30 L353.43,422.24 L354.73,422.19 L356.02,422.13 L357.31,422.07 L358.60,422.01 L359.89,421.95 L361.18,421.89 L362.48,421.84 L363.77,421.78 L365.06,421.72 L366.35,421.66 L367.64,421.60 L368.93,421.55 L370.23,421.49 L371.52,421.43 L372.81,421.37 L374.10,421.31 L374.80,421.31 L375.50,417.32 L376.21,412.98 L376.91,408.93 L377.61,405.17 L378.31,401.67 L379.01,398.41 L379.72,395.37 L380.42,392.55 L381.12,389.92 L381.82,387.47 L382.52,385.19 L383.23,383.07 L383.93,381.09 L384.63,379.26 L385.33,377.54 L386.03,375.95 L386.74,374.47 L387.44,373.09 L388.14,371.80 L388.84,370.61 L389.54,369.49 L390.25,368.46 L390.95,367.49 L391.65,366.59 L392.35,365.76 L393.05,364.98 L393.76,364.26 L394.46,363.58 L395.16,362.95 L395.86,362.37 L396.56,361.82 L397.27,361.32 L397.97,360.85 L398.67,360.41 L399.37,360.00 L400.07,359.62 L400.78,359.27 L401.48,358.94 L402.18,358.63 L402.88,358.34 L403.58,358.08 L404.29,357.83 L404.99,357.60 L405.69,357.39 L406.39,357.19 L407.09,357.00 L407.80,356.83 L408.50,356.67 L409.20,356.52 L409.90,356.38 L410.60,356.25 L411.31,356.13 L412.01,356.01 L412.71,355.91 L413.41,355.81 L414.11,355.72 L414.82,355.64 L415.52,355.56 L416.22,355.49 L416.92,355.42 L417.62,355.35 L418.33,355.30 L419.03,355.24 L419.73,355.19 L420.43,355.14 L421.13,355.10 L421.84,355.06 L422.54,355.02 L423.24,354.98 L423.94,354.95 L424.64,354.92 L425.35,354.89 L426.05,354.86 L426.75,354.84 L427.45,354.81 L428.15,354.79 L428.86,354.77 L429.56,354.75 L430.26,354.74 L430.96,354.72 L431.66,354.70 L432.37,354.69 L433.07,354.68 L433.77,354.66 L434.47,354.65 L435.17,354.64 L435.88,354.63 L436.58,354.62 L437.28,354.61 L437.98,354.61 L438.68,354.60 L439.39,354.59 L440.09,354.59 L440.79,354.58 L441.49,354.57 L442.19,354.57 L442.90,354.56 L443.60,354.56 L444.30,354.56" fill="none" stroke="#f6b822" stroke-width="2.0" stroke-linejoin="round"/>
<path d="M292.20,435.30 L296.60,436.00 L297.83,428.16 L299.06,418.93 L300.29,410.87 L301.52,403.81 L302.75,397.63 L303.99,392.23 L305.22,387.51 L306.45,383.37 L307.68,379.76 L308.91,376.59 L310.14,373.83 L311.37,371.41 L312.60,369.29 L313.83,367.44 L315.06,365.82 L316.29,364.40 L317.52,363.16 L318.75,362.08 L319.99,361.13 L321.22,360.30 L322.45,359.57 L323.68,358.94 L324.91,358.38 L326.14,357.90 L327.37,357.47 L328.60,357.10 L329.83,356.77 L331.06,356.49 L332.29,356.24 L333.53,356.02 L334.76,355.83 L335.99,355.66 L337.22,355.52 L338.45,355.39 L339.68,355.28 L340.91,355.18 L342.14,355.10 L343.37,355.02 L344.60,354.96 L345.83,354.90 L347.06,354.85 L348.30,354.81 L349.53,354.77 L350.76,354.73 L351.99,354.70 L353.22,354.68 L354.45,354.66 L355.68,354.64 L356.91,354.62 L358.14,354.60 L359.37,354.59 L360.60,354.58 L361.83,354.57 L363.06,354.56 L364.30,354.55 L365.53,354.55 L366.76,354.54 L367.99,354.54 L369.22,354.53 L370.45,354.53 L371.68,354.52 L372.91,354.52 L374.14,354.52 L375.37,354.52 L376.60,354.51 L377.84,354.51 L379.07,354.51 L380.30,354.51 L381.53,354.51 L382.76,354.51 L383.99,354.51 L385.22,354.51 L386.45,354.50 L387.68,354.50 L388.91,354.50 L390.14,354.50 L391.37,354.50 L392.61,354.50 L393.84,354.50 L395.07,354.50 L396.30,354.50 L397.53,354.50 L398.76,354.50 L399.99,354.50 L401.22,354.50 L402.45,354.50 L403.68,354.50 L404.91,354.50 L406.14,354.50 L407.38,354.50 L408.61,354.50 L409.84,354.50 L411.07,354.50 L412.30,354.50 L413.53,354.50 L414.76,354.50 L415.99,354.50 L417.22,354.50 L418.45,354.50 L419.68,354.50 L420.91,354.50 L422.14,354.50 L423.38,354.50 L424.61,354.50 L425.84,354.50 L427.07,354.50 L428.30,354.50 L429.53,354.50 L430.76,354.50 L431.99,354.50 L433.22,354.50 L434.45,354.50 L435.68,354.50 L436.92,354.50 L438.15,354.50 L439.38,354.50 L440.61,354.50 L441.84,354.50 L443.07,354.50 L444.30,354.50" fill="none" stroke="#1a72c4" stroke-width="2.0" stroke-dasharray="3.8,3.2" stroke-linejoin="round"/>
<path d="M292.20,435.20 L296.60,436.00 L297.89,435.41 L299.18,433.29 L300.48,431.56 L301.77,430.16 L303.06,429.02 L304.35,428.09 L305.64,427.32 L306.93,426.70 L308.23,426.18 L309.52,425.76 L310.81,425.40 L312.10,425.10 L313.39,424.85 L314.68,424.64 L315.98,424.45 L317.27,424.29 L318.56,424.15 L319.85,424.03 L321.14,423.92 L322.43,423.82 L323.73,423.72 L325.02,423.64 L326.31,423.56 L327.60,423.48 L328.89,423.41 L330.18,423.34 L331.48,423.27 L332.77,423.20 L334.06,423.14 L335.35,423.08 L336.64,423.01 L337.93,422.95 L339.23,422.89 L340.52,422.83 L341.81,422.77 L343.10,422.71 L344.39,422.65 L345.68,422.59 L346.98,422.54 L348.27,422.48 L349.56,422.42 L350.85,422.36 L352.14,422.30 L353.43,422.24 L354.73,422.19 L356.02,422.13 L357.31,422.07 L358.60,422.01 L359.89,421.95 L361.18,421.89 L362.48,421.84 L363.77,421.78 L365.06,421.72 L366.35,421.66 L367.64,421.60 L368.93,421.55 L370.23,421.49 L371.52,421.43 L372.81,421.37 L374.10,421.31 L374.80,421.31 L375.50,417.32 L376.21,412.98 L376.91,408.93 L377.61,405.17 L378.31,401.67 L379.01,398.41 L379.72,395.37 L380.42,392.55 L381.12,389.92 L381.82,387.47 L382.52,385.19 L383.23,383.07 L383.93,381.09 L384.63,379.26 L385.33,377.54 L386.03,375.95 L386.74,374.47 L387.44,373.09 L388.14,371.80 L388.84,370.61 L389.54,369.49 L390.25,368.46 L390.95,367.49 L391.65,366.59 L392.35,365.76 L393.05,364.98 L393.76,364.26 L394.46,363.58 L395.16,362.95 L395.86,362.37 L396.56,361.82 L397.27,361.32 L397.97,360.85 L398.67,360.41 L399.37,360.00 L400.07,359.62 L400.78,359.27 L401.48,358.94 L402.18,358.63 L402.88,358.34 L403.58,358.08 L404.29,357.83 L404.99,357.60 L405.69,357.39 L406.39,357.19 L407.09,357.00 L407.80,356.83 L408.50,356.67 L409.20,356.52 L409.90,356.38 L410.60,356.25 L411.31,356.13 L412.01,356.01 L412.71,355.91 L413.41,355.81 L414.11,355.72 L414.82,355.64 L415.52,355.56 L416.22,355.49 L416.92,355.42 L417.62,355.35 L418.33,355.30 L419.03,355.24 L419.73,355.19 L420.43,355.14 L421.13,355.10 L421.84,355.06 L422.54,355.02 L423.24,354.98 L423.94,354.95 L424.64,354.92 L425.35,354.89 L426.05,354.86 L426.75,354.84 L427.45,354.81 L428.15,354.79 L428.86,354.77 L429.56,354.75 L430.26,354.74 L430.96,354.72 L431.66,354.70 L432.37,354.69 L433.07,354.68 L433.77,354.66 L434.47,354.65 L435.17,354.64 L435.88,354.63 L436.58,354.62 L437.28,354.61 L437.98,354.61 L438.68,354.60 L439.39,354.59 L440.09,354.59 L440.79,354.58 L441.49,354.57 L442.19,354.57 L442.90,354.56 L443.60,354.56 L444.30,354.56" fill="none" stroke="#e2262b" stroke-width="2.0" stroke-dasharray="3.5,3.5" stroke-linejoin="round"/>
<line x1="292.2" y1="349.7" x2="444.3" y2="349.7" stroke="#151515" stroke-width="1.5"/>
<line x1="444.3" y1="349.7" x2="444.3" y2="442.5" stroke="#222" stroke-width="1.3"/>
<line x1="292.2" y1="442.5" x2="444.3" y2="442.5" stroke="#222" stroke-width="1.4"/>
<line x1="292.2" y1="347.0" x2="292.2" y2="445.7" stroke="#1e1e1e" stroke-width="1.6"/>
<line x1="292.20" y1="442.5" x2="292.20" y2="445.3" stroke="#222" stroke-width="1.3"/>
<line x1="312.67" y1="442.5" x2="312.67" y2="445.3" stroke="#222" stroke-width="1.3"/>
<line x1="333.14" y1="442.5" x2="333.14" y2="445.3" stroke="#222" stroke-width="1.3"/>
<line x1="353.61" y1="442.5" x2="353.61" y2="445.3" stroke="#222" stroke-width="1.3"/>
<line x1="374.08" y1="442.5" x2="374.08" y2="445.3" stroke="#222" stroke-width="1.3"/>
<line x1="394.55" y1="442.5" x2="394.55" y2="445.3" stroke="#222" stroke-width="1.3"/>
<line x1="415.02" y1="442.5" x2="415.02" y2="445.3" stroke="#222" stroke-width="1.3"/>
<line x1="435.49" y1="442.5" x2="435.49" y2="445.3" stroke="#222" stroke-width="1.3"/>
<text x="292.20" y="458.0" font-size="13.5" text-anchor="middle" fill="#161616">0</text>
<text x="333.74" y="458.0" font-size="13.5" text-anchor="middle" textLength="18.8" lengthAdjust="spacingAndGlyphs" fill="#161616">0.1</text>
<text x="374.68" y="458.0" font-size="13.5" text-anchor="middle" textLength="18.8" lengthAdjust="spacingAndGlyphs" fill="#161616">0.2</text>
<text x="415.62" y="458.0" font-size="13.5" text-anchor="middle" textLength="18.8" lengthAdjust="spacingAndGlyphs" fill="#161616">0.3</text>
<text x="287.8" y="367.85" font-size="14" text-anchor="end" textLength="18.5" lengthAdjust="spacingAndGlyphs" fill="#161616">1.0</text>
<text x="287.8" y="401.35" font-size="14" text-anchor="end" textLength="18.5" lengthAdjust="spacingAndGlyphs" fill="#161616">0.5</text>
<text x="287.8" y="434.85" font-size="14" text-anchor="end" textLength="18.5" lengthAdjust="spacingAndGlyphs" fill="#161616">0.0</text>
<text x="375.8" y="473.4" font-size="14" text-anchor="middle" textLength="51.3" lengthAdjust="spacingAndGlyphs" fill="#161616">Time (s)</text>
<text transform="translate(251.8,398.9) rotate(-90)" font-size="14" text-anchor="middle" fill="#161616" textLength="51.6" lengthAdjust="spacingAndGlyphs">C = 0.15</text>
<text transform="translate(264.9,397.8) rotate(-90)" font-size="14" text-anchor="middle" fill="#161616" textLength="69.6" lengthAdjust="spacingAndGlyphs">Similarities</text>
<rect x="526.3" y="349.2" width="50.50" height="92.60" fill="#e8e8e8"/>
<rect x="602.9" y="349.2" width="52.00" height="92.60" fill="#e8e8e8"/>
<line x1="526.3" y1="349.8" x2="526.3" y2="441.8" stroke="#1e1e1e" stroke-width="1.5" stroke-dasharray="4,3.1" stroke-dashoffset="2.1"/>
<line x1="576.8" y1="349.8" x2="576.8" y2="441.8" stroke="#1e1e1e" stroke-width="1.5" stroke-dasharray="4,3.1" stroke-dashoffset="2.1"/>
<line x1="602.9" y1="349.8" x2="602.9" y2="441.8" stroke="#1e1e1e" stroke-width="1.5" stroke-dasharray="4,3.1" stroke-dashoffset="2.1"/>
<line x1="654.9" y1="349.8" x2="654.9" y2="441.8" stroke="#1e1e1e" stroke-width="1.5" stroke-dasharray="4,3.1" stroke-dashoffset="2.1"/>
<path d="M521.70,434.90 L526.60,435.00 L527.83,427.17 L529.05,418.85 L530.28,411.53 L531.51,405.08 L532.73,399.41 L533.96,394.42 L535.19,390.03 L536.41,386.16 L537.64,382.76 L538.87,379.77 L540.09,377.13 L541.32,374.81 L542.55,372.77 L543.77,370.98 L545.00,369.39 L546.23,368.00 L547.45,366.78 L548.68,365.70 L549.91,364.75 L551.13,363.92 L552.36,363.19 L553.59,362.54 L554.81,361.97 L556.04,361.47 L557.27,361.03 L558.49,360.64 L559.72,360.30 L560.95,360.00 L562.17,359.74 L563.40,359.51 L564.63,359.30 L565.85,359.12 L567.08,358.96 L568.31,358.82 L569.53,358.70 L570.76,358.59 L571.99,358.50 L573.21,358.41 L574.44,358.34 L575.67,358.28 L576.89,358.22 L578.12,358.17 L579.35,358.12 L580.57,358.09 L581.80,358.05 L583.03,358.02 L584.25,357.99 L585.48,357.97 L586.71,357.95 L587.93,357.93 L589.16,357.92 L590.39,357.90 L591.61,357.89 L592.84,357.88 L594.07,357.87 L595.29,357.86 L596.52,357.85 L597.75,357.85 L598.97,357.84 L600.20,357.84 L601.43,357.83 L602.65,357.83 L603.88,357.83 L605.11,357.82 L606.33,357.82 L607.56,357.82 L608.79,357.82 L610.01,357.81 L611.24,357.81 L612.47,357.81 L613.69,357.81 L614.92,357.81 L616.15,357.81 L617.37,357.81 L618.60,357.81 L619.83,357.80 L621.05,357.80 L622.28,357.80 L623.51,357.80 L624.73,357.80 L625.96,357.80 L627.19,357.80 L628.41,357.80 L629.64,357.80 L630.87,357.80 L632.09,357.80 L633.32,357.80 L634.55,357.80 L635.77,357.80 L637.00,357.80 L638.23,357.80 L639.45,357.80 L640.68,357.80 L641.91,357.80 L643.13,357.80 L644.36,357.80 L645.59,357.80 L646.81,357.80 L648.04,357.80 L649.27,357.80 L650.49,357.80 L651.72,357.80 L652.95,357.80 L654.17,357.80 L655.40,357.80 L656.63,357.80 L657.85,357.80 L659.08,357.80 L660.31,357.80 L661.53,357.80 L662.76,357.80 L663.99,357.80 L665.21,357.80 L666.44,357.80 L667.67,357.80 L668.89,357.80 L670.12,357.80 L671.35,357.80 L672.57,357.80 L673.80,357.80" fill="none" stroke="#33bfb6" stroke-width="2.0" stroke-linejoin="round"/>
<path d="M521.70,434.90 L526.60,435.00 L527.83,427.17 L529.05,418.85 L530.28,411.53 L531.51,405.08 L532.73,399.41 L533.96,394.42 L535.19,390.03 L536.41,386.16 L537.64,382.76 L538.87,379.77 L540.09,377.13 L541.32,374.81 L542.55,372.77 L543.77,370.98 L545.00,369.39 L546.23,368.00 L547.45,366.78 L548.68,365.70 L549.91,364.75 L551.13,363.92 L552.36,363.19 L553.59,362.54 L554.81,361.97 L556.04,361.47 L557.27,361.03 L558.49,360.64 L559.72,360.30 L560.95,360.00 L562.17,359.74 L563.40,359.51 L564.63,359.30 L565.85,359.12 L567.08,358.96 L568.31,358.82 L569.53,358.70 L570.76,358.59 L571.99,358.50 L573.21,358.41 L574.44,358.34 L575.67,358.28 L576.89,358.22 L578.12,358.17 L579.35,358.12 L580.57,358.09 L581.80,358.05 L583.03,358.02 L584.25,357.99 L585.48,357.97 L586.71,357.95 L587.93,357.93 L589.16,357.92 L590.39,357.90 L591.61,357.89 L592.84,357.88 L594.07,357.87 L595.29,357.86 L596.52,357.85 L597.75,357.85 L598.97,357.84 L600.20,357.84 L601.43,357.83 L602.65,357.83 L603.88,357.83 L605.11,357.82 L606.33,357.82 L607.56,357.82 L608.79,357.82 L610.01,357.81 L611.24,357.81 L612.47,357.81 L613.69,357.81 L614.92,357.81 L616.15,357.81 L617.37,357.81 L618.60,357.81 L619.83,357.80 L621.05,357.80 L622.28,357.80 L623.51,357.80 L624.73,357.80 L625.96,357.80 L627.19,357.80 L628.41,357.80 L629.64,357.80 L630.87,357.80 L632.09,357.80 L633.32,357.80 L634.55,357.80 L635.77,357.80 L637.00,357.80 L638.23,357.80 L639.45,357.80 L640.68,357.80 L641.91,357.80 L643.13,357.80 L644.36,357.80 L645.59,357.80 L646.81,357.80 L648.04,357.80 L649.27,357.80 L650.49,357.80 L651.72,357.80 L652.95,357.80 L654.17,357.80 L655.40,357.80 L656.63,357.80 L657.85,357.80 L659.08,357.80 L660.31,357.80 L661.53,357.80 L662.76,357.80 L663.99,357.80 L665.21,357.80 L666.44,357.80 L667.67,357.80 L668.89,357.80 L670.12,357.80 L671.35,357.80 L672.57,357.80 L673.80,357.80" fill="none" stroke="#1a72c4" stroke-width="2.0" stroke-dasharray="3.8,3.2" stroke-linejoin="round"/>
<path d="M521.70,435.00 C522.52,435.00 525.13,436.22 526.60,435.00 C528.07,433.78 529.27,429.65 530.50,427.70 C531.73,425.75 532.83,424.72 534.00,423.30 C535.17,421.88 536.37,420.38 537.50,419.20 C538.63,418.02 539.78,417.85 540.80,416.20 C541.82,414.55 542.70,412.18 543.60,409.30 C544.50,406.42 545.18,402.97 546.20,398.90 C547.22,394.83 548.53,388.68 549.70,384.90 C550.87,381.12 551.75,378.82 553.20,376.20 C554.65,373.58 556.37,371.23 558.40,369.20 C560.43,367.17 563.07,365.40 565.40,364.00 C567.73,362.60 570.08,361.68 572.40,360.80 C574.72,359.92 576.40,359.20 579.30,358.70 C582.20,358.20 584.68,358.03 589.80,357.80 C594.92,357.57 596.00,357.38 610.00,357.30 C624.00,357.22 663.17,357.30 673.80,357.30" fill="none" stroke="#f6b822" stroke-width="2.0" stroke-linejoin="round"/>
<path d="M521.70,435.00 C522.52,435.00 525.13,436.22 526.60,435.00 C528.07,433.78 529.27,429.65 530.50,427.70 C531.73,425.75 532.83,424.72 534.00,423.30 C535.17,421.88 536.37,420.38 537.50,419.20 C538.63,418.02 539.78,417.85 540.80,416.20 C541.82,414.55 542.70,412.18 543.60,409.30 C544.50,406.42 545.18,402.97 546.20,398.90 C547.22,394.83 548.53,388.68 549.70,384.90 C550.87,381.12 551.75,378.82 553.20,376.20 C554.65,373.58 556.37,371.23 558.40,369.20 C560.43,367.17 563.07,365.40 565.40,364.00 C567.73,362.60 570.08,361.68 572.40,360.80 C574.72,359.92 576.40,359.20 579.30,358.70 C582.20,358.20 584.68,358.03 589.80,357.80 C594.92,357.57 596.00,357.38 610.00,357.30 C624.00,357.22 663.17,357.30 673.80,357.30" fill="none" stroke="#e2262b" stroke-width="2.0" stroke-dasharray="3.5,3.5" stroke-linejoin="round"/>
<line x1="521.7" y1="349.2" x2="673.8" y2="349.2" stroke="#151515" stroke-width="1.5"/>
<line x1="673.8" y1="349.2" x2="673.8" y2="441.8" stroke="#222" stroke-width="1.3"/>
<line x1="521.7" y1="441.8" x2="673.8" y2="441.8" stroke="#222" stroke-width="1.4"/>
<line x1="521.7" y1="346.4" x2="521.7" y2="444.5" stroke="#1e1e1e" stroke-width="1.6"/>
<line x1="521.90" y1="441.8" x2="521.90" y2="444.6" stroke="#222" stroke-width="1.3"/>
<line x1="542.17" y1="441.8" x2="542.17" y2="444.6" stroke="#222" stroke-width="1.3"/>
<line x1="562.44" y1="441.8" x2="562.44" y2="444.6" stroke="#222" stroke-width="1.3"/>
<line x1="582.71" y1="441.8" x2="582.71" y2="444.6" stroke="#222" stroke-width="1.3"/>
<line x1="602.98" y1="441.8" x2="602.98" y2="444.6" stroke="#222" stroke-width="1.3"/>
<line x1="623.25" y1="441.8" x2="623.25" y2="444.6" stroke="#222" stroke-width="1.3"/>
<line x1="643.52" y1="441.8" x2="643.52" y2="444.6" stroke="#222" stroke-width="1.3"/>
<line x1="663.79" y1="441.8" x2="663.79" y2="444.6" stroke="#222" stroke-width="1.3"/>
<text x="521.90" y="456.9" font-size="13.5" text-anchor="middle" fill="#161616">0</text>
<text x="563.04" y="456.9" font-size="13.5" text-anchor="middle" textLength="18.8" lengthAdjust="spacingAndGlyphs" fill="#161616">0.1</text>
<text x="603.58" y="456.9" font-size="13.5" text-anchor="middle" textLength="18.8" lengthAdjust="spacingAndGlyphs" fill="#161616">0.2</text>
<text x="644.12" y="456.9" font-size="13.5" text-anchor="middle" textLength="18.8" lengthAdjust="spacingAndGlyphs" fill="#161616">0.3</text>
<text x="517.9" y="367.25" font-size="14" text-anchor="end" textLength="18.5" lengthAdjust="spacingAndGlyphs" fill="#161616">1.0</text>
<text x="517.9" y="400.60" font-size="14" text-anchor="end" textLength="18.5" lengthAdjust="spacingAndGlyphs" fill="#161616">0.5</text>
<text x="517.9" y="433.95" font-size="14" text-anchor="end" textLength="18.5" lengthAdjust="spacingAndGlyphs" fill="#161616">0.0</text>
<text x="604.4" y="472.3" font-size="14" text-anchor="middle" textLength="51.3" lengthAdjust="spacingAndGlyphs" fill="#161616">Time (s)</text>
<text transform="translate(481.5,396.0) rotate(-90)" font-size="14" text-anchor="middle" fill="#161616" textLength="41.7" lengthAdjust="spacingAndGlyphs">C = 0.3</text>
<text transform="translate(494.7,396.5) rotate(-90)" font-size="14" text-anchor="middle" fill="#161616" textLength="69.6" lengthAdjust="spacingAndGlyphs">Similarities</text>
<text transform="translate(90.7,398.7) rotate(-90)" font-size="10.8" font-weight="bold" text-anchor="middle" fill="#161616" textLength="54" lengthAdjust="spacingAndGlyphs">Stimulation</text>
<text transform="translate(102.9,399.0) rotate(-90)" font-size="10.8" font-weight="bold" text-anchor="middle" fill="#161616" textLength="54.6" lengthAdjust="spacingAndGlyphs">of concept 1</text>
<text transform="translate(167.4,398.7) rotate(-90)" font-size="10.8" font-weight="bold" text-anchor="middle" fill="#161616" textLength="54" lengthAdjust="spacingAndGlyphs">Stimulation</text>
<text transform="translate(179.6,398.1) rotate(-90)" font-size="10.8" font-weight="bold" text-anchor="middle" fill="#161616" textLength="56.4" lengthAdjust="spacingAndGlyphs">of concept 2</text>
<text x="246.2" y="492.0" font-size="14" textLength="95.6" lengthAdjust="spacingAndGlyphs" fill="#161616">Full Simulation:</text>
<text x="416.4" y="492.0" font-size="14" textLength="71.2" lengthAdjust="spacingAndGlyphs" fill="#161616">Mean Field:</text>
<line x1="232.5" y1="507" x2="255.6" y2="507" stroke="#33bfb6" stroke-width="1.9"/>
<line x1="305.3" y1="507" x2="327.5" y2="507" stroke="#f6b822" stroke-width="1.9"/>
<line x1="395.5" y1="506.9" x2="418.3" y2="506.9" stroke="#1a72c4" stroke-width="1.5" stroke-dasharray="4.4,3.2" stroke-dashoffset="2.2"/>
<line x1="468.1" y1="506.9" x2="491.3" y2="506.9" stroke="#e2262b" stroke-width="1.5" stroke-dasharray="4.4,3.2" stroke-dashoffset="2.2"/>
<text x="260.6" y="510.8" font-size="14" fill="#161616">m<tspan font-size="8.5" dy="-5">1</tspan></text>
<text x="333.2" y="510.8" font-size="14" fill="#161616">m<tspan font-size="8.5" dy="-5">2</tspan></text>
<text x="423.4" y="510.8" font-size="14" fill="#161616">m<tspan font-size="8.5" dy="-5">1</tspan></text>
<text x="495.6" y="510.8" font-size="14" fill="#161616">m<tspan font-size="8.5" dy="-5">2</tspan></text>
</svg></body></html>
